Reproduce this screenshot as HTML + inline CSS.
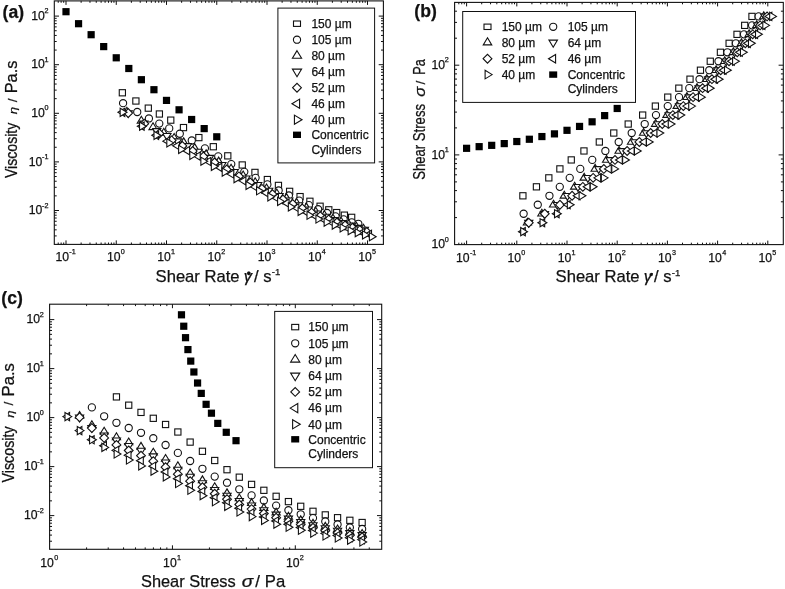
<!DOCTYPE html>
<html><head><meta charset="utf-8"><title>Figure</title>
<style>
html,body{margin:0;padding:0;background:#fff;}
svg{display:block;}
svg text{font-family:"Liberation Sans", sans-serif;fill:#111;stroke:#111;stroke-width:0.25px;}
</style></head><body>
<svg width="785" height="589" viewBox="0 0 785 589">
<rect width="785" height="589" fill="#fff"/>
<rect x="54.3" y="0.9" width="329.10" height="243.50" fill="none" stroke="#111" stroke-width="1.1"/>
<path d="M58.22 244.4v-1.9M58.22 0.9v1.9M61.13 244.4v-1.9M61.13 0.9v1.9M63.70 244.4v-1.9M63.70 0.9v1.9M66.00 244.4v-4.0M66.00 0.9v4.0M81.13 244.4v-1.9M81.13 0.9v1.9M89.98 244.4v-1.9M89.98 0.9v1.9M96.25 244.4v-1.9M96.25 0.9v1.9M101.12 244.4v-1.9M101.12 0.9v1.9M105.10 244.4v-1.9M105.10 0.9v1.9M108.47 244.4v-1.9M108.47 0.9v1.9M111.38 244.4v-1.9M111.38 0.9v1.9M113.95 244.4v-1.9M113.95 0.9v1.9M116.25 244.4v-4.0M116.25 0.9v4.0M131.38 244.4v-1.9M131.38 0.9v1.9M140.23 244.4v-1.9M140.23 0.9v1.9M146.50 244.4v-1.9M146.50 0.9v1.9M151.37 244.4v-1.9M151.37 0.9v1.9M155.35 244.4v-1.9M155.35 0.9v1.9M158.72 244.4v-1.9M158.72 0.9v1.9M161.63 244.4v-1.9M161.63 0.9v1.9M164.20 244.4v-1.9M164.20 0.9v1.9M166.50 244.4v-4.0M166.50 0.9v4.0M181.63 244.4v-1.9M181.63 0.9v1.9M190.48 244.4v-1.9M190.48 0.9v1.9M196.75 244.4v-1.9M196.75 0.9v1.9M201.62 244.4v-1.9M201.62 0.9v1.9M205.60 244.4v-1.9M205.60 0.9v1.9M208.97 244.4v-1.9M208.97 0.9v1.9M211.88 244.4v-1.9M211.88 0.9v1.9M214.45 244.4v-1.9M214.45 0.9v1.9M216.75 244.4v-4.0M216.75 0.9v4.0M231.88 244.4v-1.9M231.88 0.9v1.9M240.73 244.4v-1.9M240.73 0.9v1.9M247.00 244.4v-1.9M247.00 0.9v1.9M251.87 244.4v-1.9M251.87 0.9v1.9M255.85 244.4v-1.9M255.85 0.9v1.9M259.22 244.4v-1.9M259.22 0.9v1.9M262.13 244.4v-1.9M262.13 0.9v1.9M264.70 244.4v-1.9M264.70 0.9v1.9M267.00 244.4v-4.0M267.00 0.9v4.0M282.13 244.4v-1.9M282.13 0.9v1.9M290.98 244.4v-1.9M290.98 0.9v1.9M297.25 244.4v-1.9M297.25 0.9v1.9M302.12 244.4v-1.9M302.12 0.9v1.9M306.10 244.4v-1.9M306.10 0.9v1.9M309.47 244.4v-1.9M309.47 0.9v1.9M312.38 244.4v-1.9M312.38 0.9v1.9M314.95 244.4v-1.9M314.95 0.9v1.9M317.25 244.4v-4.0M317.25 0.9v4.0M332.38 244.4v-1.9M332.38 0.9v1.9M341.23 244.4v-1.9M341.23 0.9v1.9M347.50 244.4v-1.9M347.50 0.9v1.9M352.37 244.4v-1.9M352.37 0.9v1.9M356.35 244.4v-1.9M356.35 0.9v1.9M359.72 244.4v-1.9M359.72 0.9v1.9M362.63 244.4v-1.9M362.63 0.9v1.9M365.20 244.4v-1.9M365.20 0.9v1.9M367.50 244.4v-4.0M367.50 0.9v4.0M54.3 235.91h2.4M383.4 235.91h-2.4M54.3 229.84h2.4M383.4 229.84h-2.4M54.3 225.13h2.4M383.4 225.13h-2.4M54.3 221.28h2.4M383.4 221.28h-2.4M54.3 218.03h2.4M383.4 218.03h-2.4M54.3 215.21h2.4M383.4 215.21h-2.4M54.3 212.72h2.4M383.4 212.72h-2.4M54.3 210.50h4.7M383.4 210.50h-4.7M54.3 195.87h2.4M383.4 195.87h-2.4M54.3 187.31h2.4M383.4 187.31h-2.4M54.3 181.24h2.4M383.4 181.24h-2.4M54.3 176.53h2.4M383.4 176.53h-2.4M54.3 172.68h2.4M383.4 172.68h-2.4M54.3 169.43h2.4M383.4 169.43h-2.4M54.3 166.61h2.4M383.4 166.61h-2.4M54.3 164.12h2.4M383.4 164.12h-2.4M54.3 161.90h4.7M383.4 161.90h-4.7M54.3 147.27h2.4M383.4 147.27h-2.4M54.3 138.71h2.4M383.4 138.71h-2.4M54.3 132.64h2.4M383.4 132.64h-2.4M54.3 127.93h2.4M383.4 127.93h-2.4M54.3 124.08h2.4M383.4 124.08h-2.4M54.3 120.83h2.4M383.4 120.83h-2.4M54.3 118.01h2.4M383.4 118.01h-2.4M54.3 115.52h2.4M383.4 115.52h-2.4M54.3 113.30h4.7M383.4 113.30h-4.7M54.3 98.67h2.4M383.4 98.67h-2.4M54.3 90.11h2.4M383.4 90.11h-2.4M54.3 84.04h2.4M383.4 84.04h-2.4M54.3 79.33h2.4M383.4 79.33h-2.4M54.3 75.48h2.4M383.4 75.48h-2.4M54.3 72.23h2.4M383.4 72.23h-2.4M54.3 69.41h2.4M383.4 69.41h-2.4M54.3 66.92h2.4M383.4 66.92h-2.4M54.3 64.70h4.7M383.4 64.70h-4.7M54.3 50.07h2.4M383.4 50.07h-2.4M54.3 41.51h2.4M383.4 41.51h-2.4M54.3 35.44h2.4M383.4 35.44h-2.4M54.3 30.73h2.4M383.4 30.73h-2.4M54.3 26.88h2.4M383.4 26.88h-2.4M54.3 23.63h2.4M383.4 23.63h-2.4M54.3 20.81h2.4M383.4 20.81h-2.4M54.3 18.32h2.4M383.4 18.32h-2.4M54.3 16.10h4.7M383.4 16.10h-4.7" stroke="#111" stroke-width="1" fill="none"/>
<text x="55.47" y="261.20" font-size="13" textLength="13.6" lengthAdjust="spacingAndGlyphs">10</text><text x="69.37" y="254.30" font-size="7.2">-1</text>
<text x="106.92" y="261.20" font-size="13" textLength="13.6" lengthAdjust="spacingAndGlyphs">10</text><text x="120.82" y="254.30" font-size="7.2">0</text>
<text x="157.17" y="261.20" font-size="13" textLength="13.6" lengthAdjust="spacingAndGlyphs">10</text><text x="171.07" y="254.30" font-size="7.2">1</text>
<text x="207.42" y="261.20" font-size="13" textLength="13.6" lengthAdjust="spacingAndGlyphs">10</text><text x="221.32" y="254.30" font-size="7.2">2</text>
<text x="257.67" y="261.20" font-size="13" textLength="13.6" lengthAdjust="spacingAndGlyphs">10</text><text x="271.57" y="254.30" font-size="7.2">3</text>
<text x="307.92" y="261.20" font-size="13" textLength="13.6" lengthAdjust="spacingAndGlyphs">10</text><text x="321.82" y="254.30" font-size="7.2">4</text>
<text x="358.17" y="261.20" font-size="13" textLength="13.6" lengthAdjust="spacingAndGlyphs">10</text><text x="372.07" y="254.30" font-size="7.2">5</text>
<text x="28.74" y="214.10" font-size="13" textLength="13.6" lengthAdjust="spacingAndGlyphs">10</text><text x="42.04" y="207.60" font-size="7.2">-2</text>
<text x="28.74" y="165.50" font-size="13" textLength="13.6" lengthAdjust="spacingAndGlyphs">10</text><text x="42.04" y="159.00" font-size="7.2">-1</text>
<text x="31.14" y="116.90" font-size="13" textLength="13.6" lengthAdjust="spacingAndGlyphs">10</text><text x="44.44" y="110.40" font-size="7.2">0</text>
<text x="31.14" y="68.30" font-size="13" textLength="13.6" lengthAdjust="spacingAndGlyphs">10</text><text x="44.44" y="61.80" font-size="7.2">1</text>
<text x="31.14" y="19.70" font-size="13" textLength="13.6" lengthAdjust="spacingAndGlyphs">10</text><text x="44.44" y="13.20" font-size="7.2">2</text>
<rect x="119.26" y="89.67" width="6.2" height="6.2" fill="#fff" stroke="#111" stroke-width="1.1" stroke-linejoin="miter"/>
<rect x="132.79" y="97.90" width="6.2" height="6.2" fill="#fff" stroke="#111" stroke-width="1.1" stroke-linejoin="miter"/>
<rect x="145.20" y="105.04" width="6.2" height="6.2" fill="#fff" stroke="#111" stroke-width="1.1" stroke-linejoin="miter"/>
<rect x="156.28" y="110.89" width="6.2" height="6.2" fill="#fff" stroke="#111" stroke-width="1.1" stroke-linejoin="miter"/>
<rect x="167.66" y="117.04" width="6.2" height="6.2" fill="#fff" stroke="#111" stroke-width="1.1" stroke-linejoin="miter"/>
<rect x="180.38" y="124.48" width="6.2" height="6.2" fill="#fff" stroke="#111" stroke-width="1.1" stroke-linejoin="miter"/>
<rect x="195.76" y="134.50" width="6.2" height="6.2" fill="#fff" stroke="#111" stroke-width="1.1" stroke-linejoin="miter"/>
<rect x="210.22" y="143.62" width="6.2" height="6.2" fill="#fff" stroke="#111" stroke-width="1.1" stroke-linejoin="miter"/>
<rect x="224.68" y="152.75" width="6.2" height="6.2" fill="#fff" stroke="#111" stroke-width="1.1" stroke-linejoin="miter"/>
<rect x="239.14" y="161.87" width="6.2" height="6.2" fill="#fff" stroke="#111" stroke-width="1.1" stroke-linejoin="miter"/>
<rect x="251.86" y="169.31" width="6.2" height="6.2" fill="#fff" stroke="#111" stroke-width="1.1" stroke-linejoin="miter"/>
<rect x="264.27" y="176.45" width="6.2" height="6.2" fill="#fff" stroke="#111" stroke-width="1.1" stroke-linejoin="miter"/>
<rect x="275.34" y="182.31" width="6.2" height="6.2" fill="#fff" stroke="#111" stroke-width="1.1" stroke-linejoin="miter"/>
<rect x="286.52" y="188.26" width="6.2" height="6.2" fill="#fff" stroke="#111" stroke-width="1.1" stroke-linejoin="miter"/>
<rect x="296.98" y="193.51" width="6.2" height="6.2" fill="#fff" stroke="#111" stroke-width="1.1" stroke-linejoin="miter"/>
<rect x="306.82" y="198.18" width="6.2" height="6.2" fill="#fff" stroke="#111" stroke-width="1.1" stroke-linejoin="miter"/>
<rect x="316.98" y="203.14" width="6.2" height="6.2" fill="#fff" stroke="#111" stroke-width="1.1" stroke-linejoin="miter"/>
<rect x="325.69" y="206.71" width="6.2" height="6.2" fill="#fff" stroke="#111" stroke-width="1.1" stroke-linejoin="miter"/>
<rect x="333.59" y="209.48" width="6.2" height="6.2" fill="#fff" stroke="#111" stroke-width="1.1" stroke-linejoin="miter"/>
<rect x="341.28" y="212.06" width="6.2" height="6.2" fill="#fff" stroke="#111" stroke-width="1.1" stroke-linejoin="miter"/>
<rect x="348.56" y="214.24" width="6.2" height="6.2" fill="#fff" stroke="#111" stroke-width="1.1" stroke-linejoin="miter"/>
<circle cx="123.08" cy="103.18" r="3.6" fill="#fff" stroke="#111" stroke-width="1.1" stroke-linejoin="miter"/>
<circle cx="137.23" cy="112.01" r="3.6" fill="#fff" stroke="#111" stroke-width="1.1" stroke-linejoin="miter"/>
<circle cx="148.92" cy="118.46" r="3.6" fill="#fff" stroke="#111" stroke-width="1.1" stroke-linejoin="miter"/>
<circle cx="159.28" cy="123.62" r="3.6" fill="#fff" stroke="#111" stroke-width="1.1" stroke-linejoin="miter"/>
<circle cx="169.22" cy="128.38" r="3.6" fill="#fff" stroke="#111" stroke-width="1.1" stroke-linejoin="miter"/>
<circle cx="179.79" cy="133.73" r="3.6" fill="#fff" stroke="#111" stroke-width="1.1" stroke-linejoin="miter"/>
<circle cx="191.78" cy="140.48" r="3.6" fill="#fff" stroke="#111" stroke-width="1.1" stroke-linejoin="miter"/>
<circle cx="204.91" cy="148.31" r="3.6" fill="#fff" stroke="#111" stroke-width="1.1" stroke-linejoin="miter"/>
<circle cx="218.24" cy="156.35" r="3.6" fill="#fff" stroke="#111" stroke-width="1.1" stroke-linejoin="miter"/>
<circle cx="231.27" cy="164.08" r="3.6" fill="#fff" stroke="#111" stroke-width="1.1" stroke-linejoin="miter"/>
<circle cx="244.29" cy="171.82" r="3.6" fill="#fff" stroke="#111" stroke-width="1.1" stroke-linejoin="miter"/>
<circle cx="255.57" cy="177.87" r="3.6" fill="#fff" stroke="#111" stroke-width="1.1" stroke-linejoin="miter"/>
<circle cx="267.37" cy="184.41" r="3.6" fill="#fff" stroke="#111" stroke-width="1.1" stroke-linejoin="miter"/>
<circle cx="278.65" cy="190.46" r="3.6" fill="#fff" stroke="#111" stroke-width="1.1" stroke-linejoin="miter"/>
<circle cx="288.90" cy="195.52" r="3.6" fill="#fff" stroke="#111" stroke-width="1.1" stroke-linejoin="miter"/>
<circle cx="299.16" cy="200.58" r="3.6" fill="#fff" stroke="#111" stroke-width="1.1" stroke-linejoin="miter"/>
<circle cx="308.90" cy="205.14" r="3.6" fill="#fff" stroke="#111" stroke-width="1.1" stroke-linejoin="miter"/>
<circle cx="318.13" cy="209.21" r="3.6" fill="#fff" stroke="#111" stroke-width="1.1" stroke-linejoin="miter"/>
<circle cx="327.05" cy="212.98" r="3.6" fill="#fff" stroke="#111" stroke-width="1.1" stroke-linejoin="miter"/>
<circle cx="335.56" cy="216.35" r="3.6" fill="#fff" stroke="#111" stroke-width="1.1" stroke-linejoin="miter"/>
<circle cx="343.66" cy="219.33" r="3.6" fill="#fff" stroke="#111" stroke-width="1.1" stroke-linejoin="miter"/>
<circle cx="351.76" cy="222.30" r="3.6" fill="#fff" stroke="#111" stroke-width="1.1" stroke-linejoin="miter"/>
<circle cx="358.33" cy="223.79" r="3.6" fill="#fff" stroke="#111" stroke-width="1.1" stroke-linejoin="miter"/>
<path d="M126.87 107.21L130.97 114.01L122.77 114.01Z" fill="#fff" stroke="#111" stroke-width="1.1" stroke-linejoin="miter"/>
<path d="M141.33 116.34L145.43 123.14L137.23 123.14Z" fill="#fff" stroke="#111" stroke-width="1.1" stroke-linejoin="miter"/>
<path d="M153.02 122.78L157.12 129.58L148.92 129.58Z" fill="#fff" stroke="#111" stroke-width="1.1" stroke-linejoin="miter"/>
<path d="M163.79 128.34L167.89 135.14L159.69 135.14Z" fill="#fff" stroke="#111" stroke-width="1.1" stroke-linejoin="miter"/>
<path d="M174.15 133.50L178.25 140.30L170.05 140.30Z" fill="#fff" stroke="#111" stroke-width="1.1" stroke-linejoin="miter"/>
<path d="M183.68 137.86L187.78 144.66L179.58 144.66Z" fill="#fff" stroke="#111" stroke-width="1.1" stroke-linejoin="miter"/>
<path d="M194.66 143.61L198.76 150.41L190.56 150.41Z" fill="#fff" stroke="#111" stroke-width="1.1" stroke-linejoin="miter"/>
<path d="M206.14 149.86L210.24 156.66L202.04 156.66Z" fill="#fff" stroke="#111" stroke-width="1.1" stroke-linejoin="miter"/>
<path d="M218.65 157.10L222.75 163.90L214.55 163.90Z" fill="#fff" stroke="#111" stroke-width="1.1" stroke-linejoin="miter"/>
<path d="M231.06 164.24L235.16 171.04L226.96 171.04Z" fill="#fff" stroke="#111" stroke-width="1.1" stroke-linejoin="miter"/>
<path d="M243.16 171.09L247.26 177.89L239.06 177.89Z" fill="#fff" stroke="#111" stroke-width="1.1" stroke-linejoin="miter"/>
<path d="M255.16 177.83L259.26 184.63L251.06 184.63Z" fill="#fff" stroke="#111" stroke-width="1.1" stroke-linejoin="miter"/>
<path d="M266.54 183.98L270.64 190.78L262.44 190.78Z" fill="#fff" stroke="#111" stroke-width="1.1" stroke-linejoin="miter"/>
<path d="M276.80 189.04L280.90 195.84L272.70 195.84Z" fill="#fff" stroke="#111" stroke-width="1.1" stroke-linejoin="miter"/>
<path d="M286.54 193.60L290.64 200.40L282.44 200.40Z" fill="#fff" stroke="#111" stroke-width="1.1" stroke-linejoin="miter"/>
<path d="M296.69 198.56L300.79 205.36L292.59 205.36Z" fill="#fff" stroke="#111" stroke-width="1.1" stroke-linejoin="miter"/>
<path d="M306.44 203.12L310.54 209.92L302.34 209.92Z" fill="#fff" stroke="#111" stroke-width="1.1" stroke-linejoin="miter"/>
<path d="M315.77 207.29L319.87 214.09L311.67 214.09Z" fill="#fff" stroke="#111" stroke-width="1.1" stroke-linejoin="miter"/>
<path d="M324.38 210.76L328.48 217.56L320.28 217.56Z" fill="#fff" stroke="#111" stroke-width="1.1" stroke-linejoin="miter"/>
<path d="M333.00 214.23L337.10 221.03L328.90 221.03Z" fill="#fff" stroke="#111" stroke-width="1.1" stroke-linejoin="miter"/>
<path d="M341.10 217.21L345.20 224.01L337.00 224.01Z" fill="#fff" stroke="#111" stroke-width="1.1" stroke-linejoin="miter"/>
<path d="M348.79 219.79L352.89 226.59L344.69 226.59Z" fill="#fff" stroke="#111" stroke-width="1.1" stroke-linejoin="miter"/>
<path d="M356.38 222.27L360.48 229.07L352.28 229.07Z" fill="#fff" stroke="#111" stroke-width="1.1" stroke-linejoin="miter"/>
<path d="M363.46 224.25L367.56 231.05L359.36 231.05Z" fill="#fff" stroke="#111" stroke-width="1.1" stroke-linejoin="miter"/>
<path d="M128.22 117.52L132.32 110.72L124.12 110.72Z" fill="#fff" stroke="#111" stroke-width="1.1" stroke-linejoin="miter"/>
<path d="M143.92 127.84L148.02 121.04L139.82 121.04Z" fill="#fff" stroke="#111" stroke-width="1.1" stroke-linejoin="miter"/>
<path d="M156.77 135.42L160.87 128.62L152.67 128.62Z" fill="#fff" stroke="#111" stroke-width="1.1" stroke-linejoin="miter"/>
<path d="M166.92 140.36L171.02 133.56L162.82 133.56Z" fill="#fff" stroke="#111" stroke-width="1.1" stroke-linejoin="miter"/>
<path d="M177.48 145.72L181.58 138.92L173.38 138.92Z" fill="#fff" stroke="#111" stroke-width="1.1" stroke-linejoin="miter"/>
<path d="M187.40 150.46L191.50 143.66L183.30 143.66Z" fill="#fff" stroke="#111" stroke-width="1.1" stroke-linejoin="miter"/>
<path d="M198.25 156.08L202.35 149.28L194.15 149.28Z" fill="#fff" stroke="#111" stroke-width="1.1" stroke-linejoin="miter"/>
<path d="M209.58 162.18L213.68 155.38L205.48 155.38Z" fill="#fff" stroke="#111" stroke-width="1.1" stroke-linejoin="miter"/>
<path d="M221.91 169.25L226.01 162.45L217.81 162.45Z" fill="#fff" stroke="#111" stroke-width="1.1" stroke-linejoin="miter"/>
<path d="M234.22 176.29L238.32 169.49L230.12 169.49Z" fill="#fff" stroke="#111" stroke-width="1.1" stroke-linejoin="miter"/>
<path d="M245.93 182.77L250.03 175.97L241.83 175.97Z" fill="#fff" stroke="#111" stroke-width="1.1" stroke-linejoin="miter"/>
<path d="M257.75 189.34L261.85 182.54L253.65 182.54Z" fill="#fff" stroke="#111" stroke-width="1.1" stroke-linejoin="miter"/>
<path d="M268.72 195.09L272.82 188.29L264.62 188.29Z" fill="#fff" stroke="#111" stroke-width="1.1" stroke-linejoin="miter"/>
<path d="M279.11 200.27L283.21 193.47L275.01 193.47Z" fill="#fff" stroke="#111" stroke-width="1.1" stroke-linejoin="miter"/>
<path d="M288.85 204.83L292.95 198.03L284.75 198.03Z" fill="#fff" stroke="#111" stroke-width="1.1" stroke-linejoin="miter"/>
<path d="M298.69 209.50L302.79 202.70L294.59 202.70Z" fill="#fff" stroke="#111" stroke-width="1.1" stroke-linejoin="miter"/>
<path d="M308.23 213.86L312.33 207.06L304.13 207.06Z" fill="#fff" stroke="#111" stroke-width="1.1" stroke-linejoin="miter"/>
<path d="M317.28 217.75L321.38 210.95L313.18 210.95Z" fill="#fff" stroke="#111" stroke-width="1.1" stroke-linejoin="miter"/>
<path d="M325.77 221.10L329.87 214.30L321.67 214.30Z" fill="#fff" stroke="#111" stroke-width="1.1" stroke-linejoin="miter"/>
<path d="M334.20 224.40L338.30 217.60L330.10 217.60Z" fill="#fff" stroke="#111" stroke-width="1.1" stroke-linejoin="miter"/>
<path d="M342.28 227.35L346.38 220.55L338.18 220.55Z" fill="#fff" stroke="#111" stroke-width="1.1" stroke-linejoin="miter"/>
<path d="M349.82 229.78L353.92 222.98L345.72 222.98Z" fill="#fff" stroke="#111" stroke-width="1.1" stroke-linejoin="miter"/>
<path d="M357.33 232.18L361.43 225.38L353.23 225.38Z" fill="#fff" stroke="#111" stroke-width="1.1" stroke-linejoin="miter"/>
<path d="M364.35 234.12L368.45 227.32L360.25 227.32Z" fill="#fff" stroke="#111" stroke-width="1.1" stroke-linejoin="miter"/>
<path d="M123.82 113.02L128.22 108.62L132.62 113.02L128.22 117.42Z" fill="#fff" stroke="#111" stroke-width="1.1" stroke-linejoin="miter"/>
<path d="M139.85 123.66L144.25 119.26L148.65 123.66L144.25 128.06Z" fill="#fff" stroke="#111" stroke-width="1.1" stroke-linejoin="miter"/>
<path d="M155.02 133.47L159.42 129.07L163.82 133.47L159.42 137.87Z" fill="#fff" stroke="#111" stroke-width="1.1" stroke-linejoin="miter"/>
<path d="M167.18 140.38L171.58 135.98L175.98 140.38L171.58 144.78Z" fill="#fff" stroke="#111" stroke-width="1.1" stroke-linejoin="miter"/>
<path d="M177.95 145.93L182.35 141.53L186.75 145.93L182.35 150.33Z" fill="#fff" stroke="#111" stroke-width="1.1" stroke-linejoin="miter"/>
<path d="M188.26 151.04L192.66 146.64L197.06 151.04L192.66 155.44Z" fill="#fff" stroke="#111" stroke-width="1.1" stroke-linejoin="miter"/>
<path d="M198.97 156.54L203.37 152.14L207.77 156.54L203.37 160.94Z" fill="#fff" stroke="#111" stroke-width="1.1" stroke-linejoin="miter"/>
<path d="M210.15 162.50L214.55 158.10L218.95 162.50L214.55 166.90Z" fill="#fff" stroke="#111" stroke-width="1.1" stroke-linejoin="miter"/>
<path d="M222.30 169.39L226.70 164.99L231.10 169.39L226.70 173.79Z" fill="#fff" stroke="#111" stroke-width="1.1" stroke-linejoin="miter"/>
<path d="M234.51 176.33L238.91 171.93L243.31 176.33L238.91 180.73Z" fill="#fff" stroke="#111" stroke-width="1.1" stroke-linejoin="miter"/>
<path d="M245.84 182.43L250.24 178.03L254.64 182.43L250.24 186.83Z" fill="#fff" stroke="#111" stroke-width="1.1" stroke-linejoin="miter"/>
<path d="M257.48 188.83L261.88 184.43L266.28 188.83L261.88 193.23Z" fill="#fff" stroke="#111" stroke-width="1.1" stroke-linejoin="miter"/>
<path d="M268.04 194.18L272.44 189.78L276.84 194.18L272.44 198.58Z" fill="#fff" stroke="#111" stroke-width="1.1" stroke-linejoin="miter"/>
<path d="M278.55 199.49L282.95 195.09L287.35 199.49L282.95 203.89Z" fill="#fff" stroke="#111" stroke-width="1.1" stroke-linejoin="miter"/>
<path d="M288.30 204.05L292.70 199.65L297.10 204.05L292.70 208.45Z" fill="#fff" stroke="#111" stroke-width="1.1" stroke-linejoin="miter"/>
<path d="M297.83 208.42L302.23 204.02L306.63 208.42L302.23 212.82Z" fill="#fff" stroke="#111" stroke-width="1.1" stroke-linejoin="miter"/>
<path d="M307.16 212.58L311.56 208.18L315.96 212.58L311.56 216.98Z" fill="#fff" stroke="#111" stroke-width="1.1" stroke-linejoin="miter"/>
<path d="M315.93 216.20L320.33 211.80L324.73 216.20L320.33 220.60Z" fill="#fff" stroke="#111" stroke-width="1.1" stroke-linejoin="miter"/>
<path d="M324.29 219.43L328.69 215.03L333.09 219.43L328.69 223.83Z" fill="#fff" stroke="#111" stroke-width="1.1" stroke-linejoin="miter"/>
<path d="M332.55 222.55L336.95 218.15L341.35 222.55L336.95 226.95Z" fill="#fff" stroke="#111" stroke-width="1.1" stroke-linejoin="miter"/>
<path d="M340.60 225.48L345.00 221.08L349.40 225.48L345.00 229.88Z" fill="#fff" stroke="#111" stroke-width="1.1" stroke-linejoin="miter"/>
<path d="M347.98 227.76L352.38 223.36L356.78 227.76L352.38 232.16Z" fill="#fff" stroke="#111" stroke-width="1.1" stroke-linejoin="miter"/>
<path d="M355.41 230.09L359.81 225.69L364.21 230.09L359.81 234.49Z" fill="#fff" stroke="#111" stroke-width="1.1" stroke-linejoin="miter"/>
<path d="M362.39 231.97L366.79 227.57L371.19 231.97L366.79 236.37Z" fill="#fff" stroke="#111" stroke-width="1.1" stroke-linejoin="miter"/>
<path d="M117.96 112.31L124.76 108.21L124.76 116.41Z" fill="#fff" stroke="#111" stroke-width="1.1" stroke-linejoin="miter"/>
<path d="M137.34 126.19L144.14 122.09L144.14 130.29Z" fill="#fff" stroke="#111" stroke-width="1.1" stroke-linejoin="miter"/>
<path d="M151.80 135.32L158.60 131.22L158.60 139.42Z" fill="#fff" stroke="#111" stroke-width="1.1" stroke-linejoin="miter"/>
<path d="M162.86 141.15L169.66 137.05L169.66 145.25Z" fill="#fff" stroke="#111" stroke-width="1.1" stroke-linejoin="miter"/>
<path d="M172.68 145.79L179.48 141.69L179.48 149.89Z" fill="#fff" stroke="#111" stroke-width="1.1" stroke-linejoin="miter"/>
<path d="M182.72 150.64L189.52 146.54L189.52 154.74Z" fill="#fff" stroke="#111" stroke-width="1.1" stroke-linejoin="miter"/>
<path d="M193.41 156.12L200.21 152.02L200.21 160.22Z" fill="#fff" stroke="#111" stroke-width="1.1" stroke-linejoin="miter"/>
<path d="M204.00 161.50L210.80 157.40L210.80 165.60Z" fill="#fff" stroke="#111" stroke-width="1.1" stroke-linejoin="miter"/>
<path d="M215.03 167.31L221.83 163.21L221.83 171.41Z" fill="#fff" stroke="#111" stroke-width="1.1" stroke-linejoin="miter"/>
<path d="M227.00 174.03L233.80 169.93L233.80 178.13Z" fill="#fff" stroke="#111" stroke-width="1.1" stroke-linejoin="miter"/>
<path d="M239.10 180.87L245.90 176.77L245.90 184.97Z" fill="#fff" stroke="#111" stroke-width="1.1" stroke-linejoin="miter"/>
<path d="M250.05 186.60L256.85 182.50L256.85 190.70Z" fill="#fff" stroke="#111" stroke-width="1.1" stroke-linejoin="miter"/>
<path d="M261.51 192.82L268.31 188.72L268.31 196.92Z" fill="#fff" stroke="#111" stroke-width="1.1" stroke-linejoin="miter"/>
<path d="M271.66 197.78L278.46 193.68L278.46 201.88Z" fill="#fff" stroke="#111" stroke-width="1.1" stroke-linejoin="miter"/>
<path d="M282.30 203.21L289.10 199.11L289.10 207.31Z" fill="#fff" stroke="#111" stroke-width="1.1" stroke-linejoin="miter"/>
<path d="M292.04 207.77L298.84 203.67L298.84 211.87Z" fill="#fff" stroke="#111" stroke-width="1.1" stroke-linejoin="miter"/>
<path d="M301.27 211.84L308.07 207.74L308.07 215.94Z" fill="#fff" stroke="#111" stroke-width="1.1" stroke-linejoin="miter"/>
<path d="M310.40 215.81L317.20 211.71L317.20 219.91Z" fill="#fff" stroke="#111" stroke-width="1.1" stroke-linejoin="miter"/>
<path d="M318.88 219.15L325.68 215.05L325.68 223.25Z" fill="#fff" stroke="#111" stroke-width="1.1" stroke-linejoin="miter"/>
<path d="M327.11 222.25L333.91 218.15L333.91 226.35Z" fill="#fff" stroke="#111" stroke-width="1.1" stroke-linejoin="miter"/>
<path d="M335.19 225.20L341.99 221.10L341.99 229.30Z" fill="#fff" stroke="#111" stroke-width="1.1" stroke-linejoin="miter"/>
<path d="M343.21 228.11L350.01 224.01L350.01 232.21Z" fill="#fff" stroke="#111" stroke-width="1.1" stroke-linejoin="miter"/>
<path d="M350.44 230.24L357.24 226.14L357.24 234.34Z" fill="#fff" stroke="#111" stroke-width="1.1" stroke-linejoin="miter"/>
<path d="M357.80 232.49L364.60 228.39L364.60 236.59Z" fill="#fff" stroke="#111" stroke-width="1.1" stroke-linejoin="miter"/>
<path d="M364.72 234.33L371.52 230.23L371.52 238.43Z" fill="#fff" stroke="#111" stroke-width="1.1" stroke-linejoin="miter"/>
<path d="M126.96 112.31L120.16 108.21L120.16 116.41Z" fill="#fff" stroke="#111" stroke-width="1.1" stroke-linejoin="miter"/>
<path d="M146.34 126.19L139.54 122.09L139.54 130.29Z" fill="#fff" stroke="#111" stroke-width="1.1" stroke-linejoin="miter"/>
<path d="M160.80 135.32L154.00 131.22L154.00 139.42Z" fill="#fff" stroke="#111" stroke-width="1.1" stroke-linejoin="miter"/>
<path d="M173.62 142.86L166.82 138.76L166.82 146.96Z" fill="#fff" stroke="#111" stroke-width="1.1" stroke-linejoin="miter"/>
<path d="M185.41 149.40L178.61 145.30L178.61 153.50Z" fill="#fff" stroke="#111" stroke-width="1.1" stroke-linejoin="miter"/>
<path d="M196.59 155.35L189.79 151.25L189.79 159.45Z" fill="#fff" stroke="#111" stroke-width="1.1" stroke-linejoin="miter"/>
<path d="M207.67 161.21L200.87 157.11L200.87 165.31Z" fill="#fff" stroke="#111" stroke-width="1.1" stroke-linejoin="miter"/>
<path d="M218.13 166.46L211.33 162.36L211.33 170.56Z" fill="#fff" stroke="#111" stroke-width="1.1" stroke-linejoin="miter"/>
<path d="M229.00 172.12L222.20 168.02L222.20 176.22Z" fill="#fff" stroke="#111" stroke-width="1.1" stroke-linejoin="miter"/>
<path d="M240.79 178.66L233.99 174.56L233.99 182.76Z" fill="#fff" stroke="#111" stroke-width="1.1" stroke-linejoin="miter"/>
<path d="M252.79 185.41L245.99 181.31L245.99 189.51Z" fill="#fff" stroke="#111" stroke-width="1.1" stroke-linejoin="miter"/>
<path d="M263.35 190.76L256.55 186.66L256.55 194.86Z" fill="#fff" stroke="#111" stroke-width="1.1" stroke-linejoin="miter"/>
<path d="M274.63 196.81L267.83 192.71L267.83 200.91Z" fill="#fff" stroke="#111" stroke-width="1.1" stroke-linejoin="miter"/>
<path d="M284.38 201.38L277.58 197.28L277.58 205.48Z" fill="#fff" stroke="#111" stroke-width="1.1" stroke-linejoin="miter"/>
<path d="M295.14 206.93L288.34 202.83L288.34 211.03Z" fill="#fff" stroke="#111" stroke-width="1.1" stroke-linejoin="miter"/>
<path d="M304.89 211.49L298.09 207.39L298.09 215.59Z" fill="#fff" stroke="#111" stroke-width="1.1" stroke-linejoin="miter"/>
<path d="M313.81 215.26L307.01 211.16L307.01 219.36Z" fill="#fff" stroke="#111" stroke-width="1.1" stroke-linejoin="miter"/>
<path d="M322.73 219.03L315.93 214.93L315.93 223.13Z" fill="#fff" stroke="#111" stroke-width="1.1" stroke-linejoin="miter"/>
<path d="M330.93 222.10L324.13 218.00L324.13 226.20Z" fill="#fff" stroke="#111" stroke-width="1.1" stroke-linejoin="miter"/>
<path d="M339.04 225.08L332.24 220.98L332.24 229.18Z" fill="#fff" stroke="#111" stroke-width="1.1" stroke-linejoin="miter"/>
<path d="M346.93 227.86L340.13 223.76L340.13 231.96Z" fill="#fff" stroke="#111" stroke-width="1.1" stroke-linejoin="miter"/>
<path d="M354.93 230.73L348.13 226.63L348.13 234.83Z" fill="#fff" stroke="#111" stroke-width="1.1" stroke-linejoin="miter"/>
<path d="M362.01 232.72L355.21 228.62L355.21 236.82Z" fill="#fff" stroke="#111" stroke-width="1.1" stroke-linejoin="miter"/>
<path d="M369.29 234.90L362.49 230.80L362.49 239.00Z" fill="#fff" stroke="#111" stroke-width="1.1" stroke-linejoin="miter"/>
<path d="M376.16 236.68L369.36 232.58L369.36 240.78Z" fill="#fff" stroke="#111" stroke-width="1.1" stroke-linejoin="miter"/>
<rect x="62.40" y="8.10" width="7.2" height="7.2" fill="#000"/>
<rect x="74.96" y="20.10" width="7.2" height="7.2" fill="#000"/>
<rect x="87.53" y="31.10" width="7.2" height="7.2" fill="#000"/>
<rect x="100.09" y="43.00" width="7.2" height="7.2" fill="#000"/>
<rect x="112.65" y="54.20" width="7.2" height="7.2" fill="#000"/>
<rect x="125.21" y="64.90" width="7.2" height="7.2" fill="#000"/>
<rect x="137.78" y="76.10" width="7.2" height="7.2" fill="#000"/>
<rect x="150.34" y="86.10" width="7.2" height="7.2" fill="#000"/>
<rect x="162.90" y="96.80" width="7.2" height="7.2" fill="#000"/>
<rect x="175.46" y="106.20" width="7.2" height="7.2" fill="#000"/>
<rect x="188.03" y="115.90" width="7.2" height="7.2" fill="#000"/>
<rect x="200.59" y="125.00" width="7.2" height="7.2" fill="#000"/>
<rect x="213.15" y="133.20" width="7.2" height="7.2" fill="#000"/>
<rect x="454.6" y="2.4" width="328.70" height="242.20" fill="none" stroke="#111" stroke-width="1.1"/>
<path d="M458.82 244.6v-1.9M458.82 2.4v1.9M461.74 244.6v-1.9M461.74 2.4v1.9M464.30 244.6v-1.9M464.30 2.4v1.9M466.60 244.6v-4.0M466.60 2.4v4.0M481.71 244.6v-1.9M481.71 2.4v1.9M490.55 244.6v-1.9M490.55 2.4v1.9M496.82 244.6v-1.9M496.82 2.4v1.9M501.69 244.6v-1.9M501.69 2.4v1.9M505.66 244.6v-1.9M505.66 2.4v1.9M509.02 244.6v-1.9M509.02 2.4v1.9M511.94 244.6v-1.9M511.94 2.4v1.9M514.50 244.6v-1.9M514.50 2.4v1.9M516.80 244.6v-4.0M516.80 2.4v4.0M531.91 244.6v-1.9M531.91 2.4v1.9M540.75 244.6v-1.9M540.75 2.4v1.9M547.02 244.6v-1.9M547.02 2.4v1.9M551.89 244.6v-1.9M551.89 2.4v1.9M555.86 244.6v-1.9M555.86 2.4v1.9M559.22 244.6v-1.9M559.22 2.4v1.9M562.14 244.6v-1.9M562.14 2.4v1.9M564.70 244.6v-1.9M564.70 2.4v1.9M567.00 244.6v-4.0M567.00 2.4v4.0M582.11 244.6v-1.9M582.11 2.4v1.9M590.95 244.6v-1.9M590.95 2.4v1.9M597.22 244.6v-1.9M597.22 2.4v1.9M602.09 244.6v-1.9M602.09 2.4v1.9M606.06 244.6v-1.9M606.06 2.4v1.9M609.42 244.6v-1.9M609.42 2.4v1.9M612.34 244.6v-1.9M612.34 2.4v1.9M614.90 244.6v-1.9M614.90 2.4v1.9M617.20 244.6v-4.0M617.20 2.4v4.0M632.31 244.6v-1.9M632.31 2.4v1.9M641.15 244.6v-1.9M641.15 2.4v1.9M647.42 244.6v-1.9M647.42 2.4v1.9M652.29 244.6v-1.9M652.29 2.4v1.9M656.26 244.6v-1.9M656.26 2.4v1.9M659.62 244.6v-1.9M659.62 2.4v1.9M662.54 244.6v-1.9M662.54 2.4v1.9M665.10 244.6v-1.9M665.10 2.4v1.9M667.40 244.6v-4.0M667.40 2.4v4.0M682.51 244.6v-1.9M682.51 2.4v1.9M691.35 244.6v-1.9M691.35 2.4v1.9M697.62 244.6v-1.9M697.62 2.4v1.9M702.49 244.6v-1.9M702.49 2.4v1.9M706.46 244.6v-1.9M706.46 2.4v1.9M709.82 244.6v-1.9M709.82 2.4v1.9M712.74 244.6v-1.9M712.74 2.4v1.9M715.30 244.6v-1.9M715.30 2.4v1.9M717.60 244.6v-4.0M717.60 2.4v4.0M732.71 244.6v-1.9M732.71 2.4v1.9M741.55 244.6v-1.9M741.55 2.4v1.9M747.82 244.6v-1.9M747.82 2.4v1.9M752.69 244.6v-1.9M752.69 2.4v1.9M756.66 244.6v-1.9M756.66 2.4v1.9M760.02 244.6v-1.9M760.02 2.4v1.9M762.94 244.6v-1.9M762.94 2.4v1.9M765.50 244.6v-1.9M765.50 2.4v1.9M767.80 244.6v-4.0M767.80 2.4v4.0M454.6 217.60h2.4M783.3 217.60h-2.4M454.6 201.80h2.4M783.3 201.80h-2.4M454.6 190.60h2.4M783.3 190.60h-2.4M454.6 181.90h2.4M783.3 181.90h-2.4M454.6 174.80h2.4M783.3 174.80h-2.4M454.6 168.79h2.4M783.3 168.79h-2.4M454.6 163.59h2.4M783.3 163.59h-2.4M454.6 159.00h2.4M783.3 159.00h-2.4M454.6 154.90h4.7M783.3 154.90h-4.7M454.6 127.90h2.4M783.3 127.90h-2.4M454.6 112.10h2.4M783.3 112.10h-2.4M454.6 100.90h2.4M783.3 100.90h-2.4M454.6 92.20h2.4M783.3 92.20h-2.4M454.6 85.10h2.4M783.3 85.10h-2.4M454.6 79.09h2.4M783.3 79.09h-2.4M454.6 73.89h2.4M783.3 73.89h-2.4M454.6 69.30h2.4M783.3 69.30h-2.4M454.6 65.20h4.7M783.3 65.20h-4.7M454.6 38.20h2.4M783.3 38.20h-2.4M454.6 22.40h2.4M783.3 22.40h-2.4M454.6 11.20h2.4M783.3 11.20h-2.4" stroke="#111" stroke-width="1" fill="none"/>
<text x="456.07" y="261.80" font-size="13" textLength="13.6" lengthAdjust="spacingAndGlyphs">10</text><text x="469.97" y="254.90" font-size="7.2">-1</text>
<text x="507.47" y="261.80" font-size="13" textLength="13.6" lengthAdjust="spacingAndGlyphs">10</text><text x="521.37" y="254.90" font-size="7.2">0</text>
<text x="557.67" y="261.80" font-size="13" textLength="13.6" lengthAdjust="spacingAndGlyphs">10</text><text x="571.57" y="254.90" font-size="7.2">1</text>
<text x="607.87" y="261.80" font-size="13" textLength="13.6" lengthAdjust="spacingAndGlyphs">10</text><text x="621.77" y="254.90" font-size="7.2">2</text>
<text x="658.07" y="261.80" font-size="13" textLength="13.6" lengthAdjust="spacingAndGlyphs">10</text><text x="671.97" y="254.90" font-size="7.2">3</text>
<text x="708.27" y="261.80" font-size="13" textLength="13.6" lengthAdjust="spacingAndGlyphs">10</text><text x="722.17" y="254.90" font-size="7.2">4</text>
<text x="758.47" y="261.80" font-size="13" textLength="13.6" lengthAdjust="spacingAndGlyphs">10</text><text x="772.37" y="254.90" font-size="7.2">5</text>
<text x="431.44" y="248.20" font-size="13" textLength="13.6" lengthAdjust="spacingAndGlyphs">10</text><text x="444.74" y="241.70" font-size="7.2">0</text>
<text x="431.44" y="158.50" font-size="13" textLength="13.6" lengthAdjust="spacingAndGlyphs">10</text><text x="444.74" y="152.00" font-size="7.2">1</text>
<text x="431.44" y="68.80" font-size="13" textLength="13.6" lengthAdjust="spacingAndGlyphs">10</text><text x="444.74" y="62.30" font-size="7.2">2</text>
<rect x="519.80" y="192.70" width="6.2" height="6.2" fill="#fff" stroke="#111" stroke-width="1.1" stroke-linejoin="miter"/>
<rect x="533.33" y="183.73" width="6.2" height="6.2" fill="#fff" stroke="#111" stroke-width="1.1" stroke-linejoin="miter"/>
<rect x="545.72" y="174.76" width="6.2" height="6.2" fill="#fff" stroke="#111" stroke-width="1.1" stroke-linejoin="miter"/>
<rect x="556.79" y="165.79" width="6.2" height="6.2" fill="#fff" stroke="#111" stroke-width="1.1" stroke-linejoin="miter"/>
<rect x="568.16" y="156.82" width="6.2" height="6.2" fill="#fff" stroke="#111" stroke-width="1.1" stroke-linejoin="miter"/>
<rect x="580.86" y="147.85" width="6.2" height="6.2" fill="#fff" stroke="#111" stroke-width="1.1" stroke-linejoin="miter"/>
<rect x="596.23" y="138.88" width="6.2" height="6.2" fill="#fff" stroke="#111" stroke-width="1.1" stroke-linejoin="miter"/>
<rect x="610.67" y="129.91" width="6.2" height="6.2" fill="#fff" stroke="#111" stroke-width="1.1" stroke-linejoin="miter"/>
<rect x="625.12" y="120.94" width="6.2" height="6.2" fill="#fff" stroke="#111" stroke-width="1.1" stroke-linejoin="miter"/>
<rect x="639.56" y="111.97" width="6.2" height="6.2" fill="#fff" stroke="#111" stroke-width="1.1" stroke-linejoin="miter"/>
<rect x="652.27" y="103.00" width="6.2" height="6.2" fill="#fff" stroke="#111" stroke-width="1.1" stroke-linejoin="miter"/>
<rect x="664.66" y="94.03" width="6.2" height="6.2" fill="#fff" stroke="#111" stroke-width="1.1" stroke-linejoin="miter"/>
<rect x="675.73" y="85.06" width="6.2" height="6.2" fill="#fff" stroke="#111" stroke-width="1.1" stroke-linejoin="miter"/>
<rect x="686.90" y="76.09" width="6.2" height="6.2" fill="#fff" stroke="#111" stroke-width="1.1" stroke-linejoin="miter"/>
<rect x="697.35" y="67.12" width="6.2" height="6.2" fill="#fff" stroke="#111" stroke-width="1.1" stroke-linejoin="miter"/>
<rect x="707.18" y="58.15" width="6.2" height="6.2" fill="#fff" stroke="#111" stroke-width="1.1" stroke-linejoin="miter"/>
<rect x="717.32" y="49.18" width="6.2" height="6.2" fill="#fff" stroke="#111" stroke-width="1.1" stroke-linejoin="miter"/>
<rect x="726.03" y="40.21" width="6.2" height="6.2" fill="#fff" stroke="#111" stroke-width="1.1" stroke-linejoin="miter"/>
<rect x="733.92" y="31.24" width="6.2" height="6.2" fill="#fff" stroke="#111" stroke-width="1.1" stroke-linejoin="miter"/>
<rect x="741.60" y="22.27" width="6.2" height="6.2" fill="#fff" stroke="#111" stroke-width="1.1" stroke-linejoin="miter"/>
<rect x="748.88" y="13.30" width="6.2" height="6.2" fill="#fff" stroke="#111" stroke-width="1.1" stroke-linejoin="miter"/>
<circle cx="523.62" cy="213.74" r="3.6" fill="#fff" stroke="#111" stroke-width="1.1" stroke-linejoin="miter"/>
<circle cx="537.76" cy="204.77" r="3.6" fill="#fff" stroke="#111" stroke-width="1.1" stroke-linejoin="miter"/>
<circle cx="549.44" cy="195.80" r="3.6" fill="#fff" stroke="#111" stroke-width="1.1" stroke-linejoin="miter"/>
<circle cx="559.78" cy="186.83" r="3.6" fill="#fff" stroke="#111" stroke-width="1.1" stroke-linejoin="miter"/>
<circle cx="569.72" cy="177.86" r="3.6" fill="#fff" stroke="#111" stroke-width="1.1" stroke-linejoin="miter"/>
<circle cx="580.27" cy="168.89" r="3.6" fill="#fff" stroke="#111" stroke-width="1.1" stroke-linejoin="miter"/>
<circle cx="592.26" cy="159.92" r="3.6" fill="#fff" stroke="#111" stroke-width="1.1" stroke-linejoin="miter"/>
<circle cx="605.37" cy="150.95" r="3.6" fill="#fff" stroke="#111" stroke-width="1.1" stroke-linejoin="miter"/>
<circle cx="618.69" cy="141.98" r="3.6" fill="#fff" stroke="#111" stroke-width="1.1" stroke-linejoin="miter"/>
<circle cx="631.70" cy="133.01" r="3.6" fill="#fff" stroke="#111" stroke-width="1.1" stroke-linejoin="miter"/>
<circle cx="644.71" cy="124.04" r="3.6" fill="#fff" stroke="#111" stroke-width="1.1" stroke-linejoin="miter"/>
<circle cx="655.98" cy="115.07" r="3.6" fill="#fff" stroke="#111" stroke-width="1.1" stroke-linejoin="miter"/>
<circle cx="667.76" cy="106.10" r="3.6" fill="#fff" stroke="#111" stroke-width="1.1" stroke-linejoin="miter"/>
<circle cx="679.03" cy="97.13" r="3.6" fill="#fff" stroke="#111" stroke-width="1.1" stroke-linejoin="miter"/>
<circle cx="689.28" cy="88.16" r="3.6" fill="#fff" stroke="#111" stroke-width="1.1" stroke-linejoin="miter"/>
<circle cx="699.52" cy="79.19" r="3.6" fill="#fff" stroke="#111" stroke-width="1.1" stroke-linejoin="miter"/>
<circle cx="709.26" cy="70.22" r="3.6" fill="#fff" stroke="#111" stroke-width="1.1" stroke-linejoin="miter"/>
<circle cx="718.48" cy="61.25" r="3.6" fill="#fff" stroke="#111" stroke-width="1.1" stroke-linejoin="miter"/>
<circle cx="727.39" cy="52.28" r="3.6" fill="#fff" stroke="#111" stroke-width="1.1" stroke-linejoin="miter"/>
<circle cx="735.89" cy="43.31" r="3.6" fill="#fff" stroke="#111" stroke-width="1.1" stroke-linejoin="miter"/>
<circle cx="743.99" cy="34.34" r="3.6" fill="#fff" stroke="#111" stroke-width="1.1" stroke-linejoin="miter"/>
<circle cx="752.08" cy="25.37" r="3.6" fill="#fff" stroke="#111" stroke-width="1.1" stroke-linejoin="miter"/>
<circle cx="758.64" cy="16.40" r="3.6" fill="#fff" stroke="#111" stroke-width="1.1" stroke-linejoin="miter"/>
<path d="M527.41 218.21L531.51 225.01L523.31 225.01Z" fill="#fff" stroke="#111" stroke-width="1.1" stroke-linejoin="miter"/>
<path d="M541.85 209.24L545.95 216.04L537.75 216.04Z" fill="#fff" stroke="#111" stroke-width="1.1" stroke-linejoin="miter"/>
<path d="M553.53 200.27L557.63 207.07L549.43 207.07Z" fill="#fff" stroke="#111" stroke-width="1.1" stroke-linejoin="miter"/>
<path d="M564.29 191.30L568.39 198.10L560.19 198.10Z" fill="#fff" stroke="#111" stroke-width="1.1" stroke-linejoin="miter"/>
<path d="M574.64 182.33L578.74 189.13L570.54 189.13Z" fill="#fff" stroke="#111" stroke-width="1.1" stroke-linejoin="miter"/>
<path d="M584.17 173.36L588.27 180.16L580.07 180.16Z" fill="#fff" stroke="#111" stroke-width="1.1" stroke-linejoin="miter"/>
<path d="M595.13 164.39L599.23 171.19L591.03 171.19Z" fill="#fff" stroke="#111" stroke-width="1.1" stroke-linejoin="miter"/>
<path d="M606.60 155.42L610.70 162.22L602.50 162.22Z" fill="#fff" stroke="#111" stroke-width="1.1" stroke-linejoin="miter"/>
<path d="M619.10 146.45L623.20 153.25L615.00 153.25Z" fill="#fff" stroke="#111" stroke-width="1.1" stroke-linejoin="miter"/>
<path d="M631.50 137.48L635.60 144.28L627.40 144.28Z" fill="#fff" stroke="#111" stroke-width="1.1" stroke-linejoin="miter"/>
<path d="M643.59 128.51L647.69 135.31L639.49 135.31Z" fill="#fff" stroke="#111" stroke-width="1.1" stroke-linejoin="miter"/>
<path d="M655.57 119.54L659.67 126.34L651.47 126.34Z" fill="#fff" stroke="#111" stroke-width="1.1" stroke-linejoin="miter"/>
<path d="M666.95 110.57L671.05 117.37L662.85 117.37Z" fill="#fff" stroke="#111" stroke-width="1.1" stroke-linejoin="miter"/>
<path d="M677.19 101.60L681.29 108.40L673.09 108.40Z" fill="#fff" stroke="#111" stroke-width="1.1" stroke-linejoin="miter"/>
<path d="M686.92 92.63L691.02 99.43L682.82 99.43Z" fill="#fff" stroke="#111" stroke-width="1.1" stroke-linejoin="miter"/>
<path d="M697.07 83.66L701.17 90.46L692.97 90.46Z" fill="#fff" stroke="#111" stroke-width="1.1" stroke-linejoin="miter"/>
<path d="M706.80 74.69L710.90 81.49L702.70 81.49Z" fill="#fff" stroke="#111" stroke-width="1.1" stroke-linejoin="miter"/>
<path d="M716.12 65.72L720.22 72.52L712.02 72.52Z" fill="#fff" stroke="#111" stroke-width="1.1" stroke-linejoin="miter"/>
<path d="M724.73 56.75L728.83 63.55L720.63 63.55Z" fill="#fff" stroke="#111" stroke-width="1.1" stroke-linejoin="miter"/>
<path d="M733.33 47.78L737.43 54.58L729.23 54.58Z" fill="#fff" stroke="#111" stroke-width="1.1" stroke-linejoin="miter"/>
<path d="M741.43 38.81L745.53 45.61L737.33 45.61Z" fill="#fff" stroke="#111" stroke-width="1.1" stroke-linejoin="miter"/>
<path d="M749.11 29.84L753.21 36.64L745.01 36.64Z" fill="#fff" stroke="#111" stroke-width="1.1" stroke-linejoin="miter"/>
<path d="M756.69 20.87L760.79 27.67L752.59 27.67Z" fill="#fff" stroke="#111" stroke-width="1.1" stroke-linejoin="miter"/>
<path d="M763.76 11.90L767.86 18.70L759.66 18.70Z" fill="#fff" stroke="#111" stroke-width="1.1" stroke-linejoin="miter"/>
<path d="M528.76 227.21L532.86 220.41L524.66 220.41Z" fill="#fff" stroke="#111" stroke-width="1.1" stroke-linejoin="miter"/>
<path d="M544.44 218.24L548.54 211.44L540.34 211.44Z" fill="#fff" stroke="#111" stroke-width="1.1" stroke-linejoin="miter"/>
<path d="M557.28 209.27L561.38 202.47L553.18 202.47Z" fill="#fff" stroke="#111" stroke-width="1.1" stroke-linejoin="miter"/>
<path d="M567.42 200.30L571.52 193.50L563.32 193.50Z" fill="#fff" stroke="#111" stroke-width="1.1" stroke-linejoin="miter"/>
<path d="M577.97 191.33L582.07 184.53L573.87 184.53Z" fill="#fff" stroke="#111" stroke-width="1.1" stroke-linejoin="miter"/>
<path d="M587.88 182.36L591.98 175.56L583.78 175.56Z" fill="#fff" stroke="#111" stroke-width="1.1" stroke-linejoin="miter"/>
<path d="M598.71 173.39L602.81 166.59L594.61 166.59Z" fill="#fff" stroke="#111" stroke-width="1.1" stroke-linejoin="miter"/>
<path d="M610.03 164.42L614.13 157.62L605.93 157.62Z" fill="#fff" stroke="#111" stroke-width="1.1" stroke-linejoin="miter"/>
<path d="M622.35 155.45L626.45 148.65L618.25 148.65Z" fill="#fff" stroke="#111" stroke-width="1.1" stroke-linejoin="miter"/>
<path d="M634.65 146.48L638.75 139.68L630.55 139.68Z" fill="#fff" stroke="#111" stroke-width="1.1" stroke-linejoin="miter"/>
<path d="M646.35 137.51L650.45 130.71L642.25 130.71Z" fill="#fff" stroke="#111" stroke-width="1.1" stroke-linejoin="miter"/>
<path d="M658.16 128.54L662.26 121.74L654.06 121.74Z" fill="#fff" stroke="#111" stroke-width="1.1" stroke-linejoin="miter"/>
<path d="M669.12 119.57L673.22 112.77L665.02 112.77Z" fill="#fff" stroke="#111" stroke-width="1.1" stroke-linejoin="miter"/>
<path d="M679.50 110.60L683.60 103.80L675.40 103.80Z" fill="#fff" stroke="#111" stroke-width="1.1" stroke-linejoin="miter"/>
<path d="M689.23 101.63L693.33 94.83L685.13 94.83Z" fill="#fff" stroke="#111" stroke-width="1.1" stroke-linejoin="miter"/>
<path d="M699.06 92.66L703.16 85.86L694.96 85.86Z" fill="#fff" stroke="#111" stroke-width="1.1" stroke-linejoin="miter"/>
<path d="M708.59 83.69L712.69 76.89L704.49 76.89Z" fill="#fff" stroke="#111" stroke-width="1.1" stroke-linejoin="miter"/>
<path d="M717.63 74.72L721.73 67.92L713.53 67.92Z" fill="#fff" stroke="#111" stroke-width="1.1" stroke-linejoin="miter"/>
<path d="M726.11 65.75L730.21 58.95L722.01 58.95Z" fill="#fff" stroke="#111" stroke-width="1.1" stroke-linejoin="miter"/>
<path d="M734.54 56.78L738.64 49.98L730.44 49.98Z" fill="#fff" stroke="#111" stroke-width="1.1" stroke-linejoin="miter"/>
<path d="M742.60 47.81L746.70 41.01L738.50 41.01Z" fill="#fff" stroke="#111" stroke-width="1.1" stroke-linejoin="miter"/>
<path d="M750.13 38.84L754.23 32.04L746.03 32.04Z" fill="#fff" stroke="#111" stroke-width="1.1" stroke-linejoin="miter"/>
<path d="M757.64 29.87L761.74 23.07L753.54 23.07Z" fill="#fff" stroke="#111" stroke-width="1.1" stroke-linejoin="miter"/>
<path d="M764.66 20.90L768.76 14.10L760.56 14.10Z" fill="#fff" stroke="#111" stroke-width="1.1" stroke-linejoin="miter"/>
<path d="M524.36 222.71L528.76 218.31L533.16 222.71L528.76 227.11Z" fill="#fff" stroke="#111" stroke-width="1.1" stroke-linejoin="miter"/>
<path d="M540.37 213.74L544.77 209.34L549.17 213.74L544.77 218.14Z" fill="#fff" stroke="#111" stroke-width="1.1" stroke-linejoin="miter"/>
<path d="M555.53 204.77L559.93 200.37L564.33 204.77L559.93 209.17Z" fill="#fff" stroke="#111" stroke-width="1.1" stroke-linejoin="miter"/>
<path d="M567.68 195.80L572.08 191.40L576.48 195.80L572.08 200.20Z" fill="#fff" stroke="#111" stroke-width="1.1" stroke-linejoin="miter"/>
<path d="M578.43 186.83L582.83 182.43L587.23 186.83L582.83 191.23Z" fill="#fff" stroke="#111" stroke-width="1.1" stroke-linejoin="miter"/>
<path d="M588.73 177.86L593.13 173.46L597.53 177.86L593.13 182.26Z" fill="#fff" stroke="#111" stroke-width="1.1" stroke-linejoin="miter"/>
<path d="M599.44 168.89L603.84 164.49L608.24 168.89L603.84 173.29Z" fill="#fff" stroke="#111" stroke-width="1.1" stroke-linejoin="miter"/>
<path d="M610.60 159.92L615.00 155.52L619.40 159.92L615.00 164.32Z" fill="#fff" stroke="#111" stroke-width="1.1" stroke-linejoin="miter"/>
<path d="M622.74 150.95L627.14 146.55L631.54 150.95L627.14 155.35Z" fill="#fff" stroke="#111" stroke-width="1.1" stroke-linejoin="miter"/>
<path d="M634.94 141.98L639.34 137.58L643.74 141.98L639.34 146.38Z" fill="#fff" stroke="#111" stroke-width="1.1" stroke-linejoin="miter"/>
<path d="M646.26 133.01L650.66 128.61L655.06 133.01L650.66 137.41Z" fill="#fff" stroke="#111" stroke-width="1.1" stroke-linejoin="miter"/>
<path d="M657.88 124.04L662.28 119.64L666.68 124.04L662.28 128.44Z" fill="#fff" stroke="#111" stroke-width="1.1" stroke-linejoin="miter"/>
<path d="M668.44 115.07L672.84 110.67L677.24 115.07L672.84 119.47Z" fill="#fff" stroke="#111" stroke-width="1.1" stroke-linejoin="miter"/>
<path d="M678.94 106.10L683.34 101.70L687.74 106.10L683.34 110.50Z" fill="#fff" stroke="#111" stroke-width="1.1" stroke-linejoin="miter"/>
<path d="M688.67 97.13L693.07 92.73L697.47 97.13L693.07 101.53Z" fill="#fff" stroke="#111" stroke-width="1.1" stroke-linejoin="miter"/>
<path d="M698.20 88.16L702.60 83.76L707.00 88.16L702.60 92.56Z" fill="#fff" stroke="#111" stroke-width="1.1" stroke-linejoin="miter"/>
<path d="M707.52 79.19L711.92 74.79L716.32 79.19L711.92 83.59Z" fill="#fff" stroke="#111" stroke-width="1.1" stroke-linejoin="miter"/>
<path d="M716.28 70.22L720.68 65.82L725.08 70.22L720.68 74.62Z" fill="#fff" stroke="#111" stroke-width="1.1" stroke-linejoin="miter"/>
<path d="M724.63 61.25L729.03 56.85L733.43 61.25L729.03 65.65Z" fill="#fff" stroke="#111" stroke-width="1.1" stroke-linejoin="miter"/>
<path d="M732.88 52.28L737.28 47.88L741.68 52.28L737.28 56.68Z" fill="#fff" stroke="#111" stroke-width="1.1" stroke-linejoin="miter"/>
<path d="M740.92 43.31L745.32 38.91L749.72 43.31L745.32 47.71Z" fill="#fff" stroke="#111" stroke-width="1.1" stroke-linejoin="miter"/>
<path d="M748.29 34.34L752.69 29.94L757.09 34.34L752.69 38.74Z" fill="#fff" stroke="#111" stroke-width="1.1" stroke-linejoin="miter"/>
<path d="M755.72 25.37L760.12 20.97L764.52 25.37L760.12 29.77Z" fill="#fff" stroke="#111" stroke-width="1.1" stroke-linejoin="miter"/>
<path d="M762.69 16.40L767.09 12.00L771.49 16.40L767.09 20.80Z" fill="#fff" stroke="#111" stroke-width="1.1" stroke-linejoin="miter"/>
<path d="M518.50 231.68L525.30 227.58L525.30 235.78Z" fill="#fff" stroke="#111" stroke-width="1.1" stroke-linejoin="miter"/>
<path d="M537.87 222.71L544.67 218.61L544.67 226.81Z" fill="#fff" stroke="#111" stroke-width="1.1" stroke-linejoin="miter"/>
<path d="M552.31 213.74L559.11 209.64L559.11 217.84Z" fill="#fff" stroke="#111" stroke-width="1.1" stroke-linejoin="miter"/>
<path d="M563.36 204.77L570.16 200.67L570.16 208.87Z" fill="#fff" stroke="#111" stroke-width="1.1" stroke-linejoin="miter"/>
<path d="M573.17 195.80L579.97 191.70L579.97 199.90Z" fill="#fff" stroke="#111" stroke-width="1.1" stroke-linejoin="miter"/>
<path d="M583.20 186.83L590.00 182.73L590.00 190.93Z" fill="#fff" stroke="#111" stroke-width="1.1" stroke-linejoin="miter"/>
<path d="M593.88 177.86L600.68 173.76L600.68 181.96Z" fill="#fff" stroke="#111" stroke-width="1.1" stroke-linejoin="miter"/>
<path d="M604.46 168.89L611.26 164.79L611.26 172.99Z" fill="#fff" stroke="#111" stroke-width="1.1" stroke-linejoin="miter"/>
<path d="M615.47 159.92L622.27 155.82L622.27 164.02Z" fill="#fff" stroke="#111" stroke-width="1.1" stroke-linejoin="miter"/>
<path d="M627.43 150.95L634.23 146.85L634.23 155.05Z" fill="#fff" stroke="#111" stroke-width="1.1" stroke-linejoin="miter"/>
<path d="M639.52 141.98L646.32 137.88L646.32 146.08Z" fill="#fff" stroke="#111" stroke-width="1.1" stroke-linejoin="miter"/>
<path d="M650.46 133.01L657.26 128.91L657.26 137.11Z" fill="#fff" stroke="#111" stroke-width="1.1" stroke-linejoin="miter"/>
<path d="M661.91 124.04L668.71 119.94L668.71 128.14Z" fill="#fff" stroke="#111" stroke-width="1.1" stroke-linejoin="miter"/>
<path d="M672.05 115.07L678.85 110.97L678.85 119.17Z" fill="#fff" stroke="#111" stroke-width="1.1" stroke-linejoin="miter"/>
<path d="M682.68 106.10L689.48 102.00L689.48 110.20Z" fill="#fff" stroke="#111" stroke-width="1.1" stroke-linejoin="miter"/>
<path d="M692.41 97.13L699.21 93.03L699.21 101.23Z" fill="#fff" stroke="#111" stroke-width="1.1" stroke-linejoin="miter"/>
<path d="M701.63 88.16L708.43 84.06L708.43 92.26Z" fill="#fff" stroke="#111" stroke-width="1.1" stroke-linejoin="miter"/>
<path d="M710.75 79.19L717.55 75.09L717.55 83.29Z" fill="#fff" stroke="#111" stroke-width="1.1" stroke-linejoin="miter"/>
<path d="M719.23 70.22L726.03 66.12L726.03 74.32Z" fill="#fff" stroke="#111" stroke-width="1.1" stroke-linejoin="miter"/>
<path d="M727.45 61.25L734.25 57.15L734.25 65.35Z" fill="#fff" stroke="#111" stroke-width="1.1" stroke-linejoin="miter"/>
<path d="M735.52 52.28L742.32 48.18L742.32 56.38Z" fill="#fff" stroke="#111" stroke-width="1.1" stroke-linejoin="miter"/>
<path d="M743.53 43.31L750.33 39.21L750.33 47.41Z" fill="#fff" stroke="#111" stroke-width="1.1" stroke-linejoin="miter"/>
<path d="M750.76 34.34L757.56 30.24L757.56 38.44Z" fill="#fff" stroke="#111" stroke-width="1.1" stroke-linejoin="miter"/>
<path d="M758.11 25.37L764.91 21.27L764.91 29.47Z" fill="#fff" stroke="#111" stroke-width="1.1" stroke-linejoin="miter"/>
<path d="M765.02 16.40L771.82 12.30L771.82 20.50Z" fill="#fff" stroke="#111" stroke-width="1.1" stroke-linejoin="miter"/>
<path d="M527.50 231.68L520.70 227.58L520.70 235.78Z" fill="#fff" stroke="#111" stroke-width="1.1" stroke-linejoin="miter"/>
<path d="M546.87 222.71L540.07 218.61L540.07 226.81Z" fill="#fff" stroke="#111" stroke-width="1.1" stroke-linejoin="miter"/>
<path d="M561.31 213.74L554.51 209.64L554.51 217.84Z" fill="#fff" stroke="#111" stroke-width="1.1" stroke-linejoin="miter"/>
<path d="M574.12 204.77L567.32 200.67L567.32 208.87Z" fill="#fff" stroke="#111" stroke-width="1.1" stroke-linejoin="miter"/>
<path d="M585.90 195.80L579.10 191.70L579.10 199.90Z" fill="#fff" stroke="#111" stroke-width="1.1" stroke-linejoin="miter"/>
<path d="M597.07 186.83L590.27 182.73L590.27 190.93Z" fill="#fff" stroke="#111" stroke-width="1.1" stroke-linejoin="miter"/>
<path d="M608.13 177.86L601.33 173.76L601.33 181.96Z" fill="#fff" stroke="#111" stroke-width="1.1" stroke-linejoin="miter"/>
<path d="M618.58 168.89L611.78 164.79L611.78 172.99Z" fill="#fff" stroke="#111" stroke-width="1.1" stroke-linejoin="miter"/>
<path d="M629.44 159.92L622.64 155.82L622.64 164.02Z" fill="#fff" stroke="#111" stroke-width="1.1" stroke-linejoin="miter"/>
<path d="M641.22 150.95L634.42 146.85L634.42 155.05Z" fill="#fff" stroke="#111" stroke-width="1.1" stroke-linejoin="miter"/>
<path d="M653.21 141.98L646.41 137.88L646.41 146.08Z" fill="#fff" stroke="#111" stroke-width="1.1" stroke-linejoin="miter"/>
<path d="M663.76 133.01L656.96 128.91L656.96 137.11Z" fill="#fff" stroke="#111" stroke-width="1.1" stroke-linejoin="miter"/>
<path d="M675.03 124.04L668.23 119.94L668.23 128.14Z" fill="#fff" stroke="#111" stroke-width="1.1" stroke-linejoin="miter"/>
<path d="M684.76 115.07L677.96 110.97L677.96 119.17Z" fill="#fff" stroke="#111" stroke-width="1.1" stroke-linejoin="miter"/>
<path d="M695.52 106.10L688.72 102.00L688.72 110.20Z" fill="#fff" stroke="#111" stroke-width="1.1" stroke-linejoin="miter"/>
<path d="M705.25 97.13L698.45 93.03L698.45 101.23Z" fill="#fff" stroke="#111" stroke-width="1.1" stroke-linejoin="miter"/>
<path d="M714.17 88.16L707.37 84.06L707.37 92.26Z" fill="#fff" stroke="#111" stroke-width="1.1" stroke-linejoin="miter"/>
<path d="M723.08 79.19L716.28 75.09L716.28 83.29Z" fill="#fff" stroke="#111" stroke-width="1.1" stroke-linejoin="miter"/>
<path d="M731.28 70.22L724.48 66.12L724.48 74.32Z" fill="#fff" stroke="#111" stroke-width="1.1" stroke-linejoin="miter"/>
<path d="M739.37 61.25L732.57 57.15L732.57 65.35Z" fill="#fff" stroke="#111" stroke-width="1.1" stroke-linejoin="miter"/>
<path d="M747.26 52.28L740.46 48.18L740.46 56.38Z" fill="#fff" stroke="#111" stroke-width="1.1" stroke-linejoin="miter"/>
<path d="M755.25 43.31L748.45 39.21L748.45 47.41Z" fill="#fff" stroke="#111" stroke-width="1.1" stroke-linejoin="miter"/>
<path d="M762.32 34.34L755.52 30.24L755.52 38.44Z" fill="#fff" stroke="#111" stroke-width="1.1" stroke-linejoin="miter"/>
<path d="M769.59 25.37L762.79 21.27L762.79 29.47Z" fill="#fff" stroke="#111" stroke-width="1.1" stroke-linejoin="miter"/>
<path d="M776.46 16.40L769.66 12.30L769.66 20.50Z" fill="#fff" stroke="#111" stroke-width="1.1" stroke-linejoin="miter"/>
<rect x="463.00" y="144.71" width="7.2" height="7.2" fill="#000"/>
<rect x="475.55" y="143.05" width="7.2" height="7.2" fill="#000"/>
<rect x="488.10" y="141.75" width="7.2" height="7.2" fill="#000"/>
<rect x="500.65" y="140.00" width="7.2" height="7.2" fill="#000"/>
<rect x="513.20" y="137.93" width="7.2" height="7.2" fill="#000"/>
<rect x="525.75" y="135.65" width="7.2" height="7.2" fill="#000"/>
<rect x="538.30" y="132.96" width="7.2" height="7.2" fill="#000"/>
<rect x="550.85" y="130.27" width="7.2" height="7.2" fill="#000"/>
<rect x="563.40" y="126.72" width="7.2" height="7.2" fill="#000"/>
<rect x="575.95" y="122.82" width="7.2" height="7.2" fill="#000"/>
<rect x="588.50" y="118.20" width="7.2" height="7.2" fill="#000"/>
<rect x="601.05" y="112.01" width="7.2" height="7.2" fill="#000"/>
<rect x="613.60" y="104.88" width="7.2" height="7.2" fill="#000"/>
<rect x="49.6" y="304.2" width="332.10" height="245.10" fill="none" stroke="#111" stroke-width="1.1"/>
<path d="M86.58 549.3v-1.9M86.58 304.2v1.9M108.21 549.3v-1.9M108.21 304.2v1.9M123.56 549.3v-1.9M123.56 304.2v1.9M135.47 549.3v-1.9M135.47 304.2v1.9M145.20 549.3v-1.9M145.20 304.2v1.9M153.42 549.3v-1.9M153.42 304.2v1.9M160.54 549.3v-1.9M160.54 304.2v1.9M166.83 549.3v-1.9M166.83 304.2v1.9M172.45 549.3v-4.0M172.45 304.2v4.0M209.43 549.3v-1.9M209.43 304.2v1.9M231.06 549.3v-1.9M231.06 304.2v1.9M246.41 549.3v-1.9M246.41 304.2v1.9M258.32 549.3v-1.9M258.32 304.2v1.9M268.05 549.3v-1.9M268.05 304.2v1.9M276.27 549.3v-1.9M276.27 304.2v1.9M283.39 549.3v-1.9M283.39 304.2v1.9M289.68 549.3v-1.9M289.68 304.2v1.9M295.30 549.3v-4.0M295.30 304.2v4.0M332.28 549.3v-1.9M332.28 304.2v1.9M353.91 549.3v-1.9M353.91 304.2v1.9M369.26 549.3v-1.9M369.26 304.2v1.9M49.6 541.22h2.4M381.7 541.22h-2.4M49.6 535.10h2.4M381.7 535.10h-2.4M49.6 530.35h2.4M381.7 530.35h-2.4M49.6 526.47h2.4M381.7 526.47h-2.4M49.6 523.19h2.4M381.7 523.19h-2.4M49.6 520.35h2.4M381.7 520.35h-2.4M49.6 517.84h2.4M381.7 517.84h-2.4M49.6 515.60h4.7M381.7 515.60h-4.7M49.6 500.85h2.4M381.7 500.85h-2.4M49.6 492.22h2.4M381.7 492.22h-2.4M49.6 486.10h2.4M381.7 486.10h-2.4M49.6 481.35h2.4M381.7 481.35h-2.4M49.6 477.47h2.4M381.7 477.47h-2.4M49.6 474.19h2.4M381.7 474.19h-2.4M49.6 471.35h2.4M381.7 471.35h-2.4M49.6 468.84h2.4M381.7 468.84h-2.4M49.6 466.60h4.7M381.7 466.60h-4.7M49.6 451.85h2.4M381.7 451.85h-2.4M49.6 443.22h2.4M381.7 443.22h-2.4M49.6 437.10h2.4M381.7 437.10h-2.4M49.6 432.35h2.4M381.7 432.35h-2.4M49.6 428.47h2.4M381.7 428.47h-2.4M49.6 425.19h2.4M381.7 425.19h-2.4M49.6 422.35h2.4M381.7 422.35h-2.4M49.6 419.84h2.4M381.7 419.84h-2.4M49.6 417.60h4.7M381.7 417.60h-4.7M49.6 402.85h2.4M381.7 402.85h-2.4M49.6 394.22h2.4M381.7 394.22h-2.4M49.6 388.10h2.4M381.7 388.10h-2.4M49.6 383.35h2.4M381.7 383.35h-2.4M49.6 379.47h2.4M381.7 379.47h-2.4M49.6 376.19h2.4M381.7 376.19h-2.4M49.6 373.35h2.4M381.7 373.35h-2.4M49.6 370.84h2.4M381.7 370.84h-2.4M49.6 368.60h4.7M381.7 368.60h-4.7M49.6 353.85h2.4M381.7 353.85h-2.4M49.6 345.22h2.4M381.7 345.22h-2.4M49.6 339.10h2.4M381.7 339.10h-2.4M49.6 334.35h2.4M381.7 334.35h-2.4M49.6 330.47h2.4M381.7 330.47h-2.4M49.6 327.19h2.4M381.7 327.19h-2.4M49.6 324.35h2.4M381.7 324.35h-2.4M49.6 321.84h2.4M381.7 321.84h-2.4M49.6 319.60h4.7M381.7 319.60h-4.7" stroke="#111" stroke-width="1" fill="none"/>
<text x="40.27" y="566.50" font-size="13" textLength="13.6" lengthAdjust="spacingAndGlyphs">10</text><text x="54.17" y="559.60" font-size="7.2">0</text>
<text x="163.12" y="566.50" font-size="13" textLength="13.6" lengthAdjust="spacingAndGlyphs">10</text><text x="177.02" y="559.60" font-size="7.2">1</text>
<text x="285.97" y="566.50" font-size="13" textLength="13.6" lengthAdjust="spacingAndGlyphs">10</text><text x="299.87" y="559.60" font-size="7.2">2</text>
<text x="24.04" y="519.20" font-size="13" textLength="13.6" lengthAdjust="spacingAndGlyphs">10</text><text x="37.34" y="512.70" font-size="7.2">-2</text>
<text x="24.04" y="470.20" font-size="13" textLength="13.6" lengthAdjust="spacingAndGlyphs">10</text><text x="37.34" y="463.70" font-size="7.2">-1</text>
<text x="26.44" y="421.20" font-size="13" textLength="13.6" lengthAdjust="spacingAndGlyphs">10</text><text x="39.74" y="414.70" font-size="7.2">0</text>
<text x="26.44" y="372.20" font-size="13" textLength="13.6" lengthAdjust="spacingAndGlyphs">10</text><text x="39.74" y="365.70" font-size="7.2">1</text>
<text x="26.44" y="323.20" font-size="13" textLength="13.6" lengthAdjust="spacingAndGlyphs">10</text><text x="39.74" y="316.70" font-size="7.2">2</text>
<rect x="113.33" y="393.80" width="6.2" height="6.2" fill="#fff" stroke="#111" stroke-width="1.1" stroke-linejoin="miter"/>
<rect x="125.62" y="402.10" width="6.2" height="6.2" fill="#fff" stroke="#111" stroke-width="1.1" stroke-linejoin="miter"/>
<rect x="137.90" y="409.30" width="6.2" height="6.2" fill="#fff" stroke="#111" stroke-width="1.1" stroke-linejoin="miter"/>
<rect x="150.19" y="415.20" width="6.2" height="6.2" fill="#fff" stroke="#111" stroke-width="1.1" stroke-linejoin="miter"/>
<rect x="162.47" y="421.40" width="6.2" height="6.2" fill="#fff" stroke="#111" stroke-width="1.1" stroke-linejoin="miter"/>
<rect x="174.76" y="428.90" width="6.2" height="6.2" fill="#fff" stroke="#111" stroke-width="1.1" stroke-linejoin="miter"/>
<rect x="187.04" y="439.00" width="6.2" height="6.2" fill="#fff" stroke="#111" stroke-width="1.1" stroke-linejoin="miter"/>
<rect x="199.33" y="448.20" width="6.2" height="6.2" fill="#fff" stroke="#111" stroke-width="1.1" stroke-linejoin="miter"/>
<rect x="211.61" y="457.40" width="6.2" height="6.2" fill="#fff" stroke="#111" stroke-width="1.1" stroke-linejoin="miter"/>
<rect x="223.90" y="466.60" width="6.2" height="6.2" fill="#fff" stroke="#111" stroke-width="1.1" stroke-linejoin="miter"/>
<rect x="236.18" y="474.10" width="6.2" height="6.2" fill="#fff" stroke="#111" stroke-width="1.1" stroke-linejoin="miter"/>
<rect x="248.47" y="481.30" width="6.2" height="6.2" fill="#fff" stroke="#111" stroke-width="1.1" stroke-linejoin="miter"/>
<rect x="260.75" y="487.20" width="6.2" height="6.2" fill="#fff" stroke="#111" stroke-width="1.1" stroke-linejoin="miter"/>
<rect x="273.04" y="493.20" width="6.2" height="6.2" fill="#fff" stroke="#111" stroke-width="1.1" stroke-linejoin="miter"/>
<rect x="285.32" y="498.50" width="6.2" height="6.2" fill="#fff" stroke="#111" stroke-width="1.1" stroke-linejoin="miter"/>
<rect x="297.61" y="503.20" width="6.2" height="6.2" fill="#fff" stroke="#111" stroke-width="1.1" stroke-linejoin="miter"/>
<rect x="309.89" y="508.20" width="6.2" height="6.2" fill="#fff" stroke="#111" stroke-width="1.1" stroke-linejoin="miter"/>
<rect x="322.18" y="511.80" width="6.2" height="6.2" fill="#fff" stroke="#111" stroke-width="1.1" stroke-linejoin="miter"/>
<rect x="334.46" y="514.60" width="6.2" height="6.2" fill="#fff" stroke="#111" stroke-width="1.1" stroke-linejoin="miter"/>
<rect x="346.75" y="517.20" width="6.2" height="6.2" fill="#fff" stroke="#111" stroke-width="1.1" stroke-linejoin="miter"/>
<rect x="359.03" y="519.40" width="6.2" height="6.2" fill="#fff" stroke="#111" stroke-width="1.1" stroke-linejoin="miter"/>
<circle cx="91.86" cy="407.40" r="3.6" fill="#fff" stroke="#111" stroke-width="1.1" stroke-linejoin="miter"/>
<circle cx="104.15" cy="416.30" r="3.6" fill="#fff" stroke="#111" stroke-width="1.1" stroke-linejoin="miter"/>
<circle cx="116.43" cy="422.80" r="3.6" fill="#fff" stroke="#111" stroke-width="1.1" stroke-linejoin="miter"/>
<circle cx="128.72" cy="428.00" r="3.6" fill="#fff" stroke="#111" stroke-width="1.1" stroke-linejoin="miter"/>
<circle cx="141.00" cy="432.80" r="3.6" fill="#fff" stroke="#111" stroke-width="1.1" stroke-linejoin="miter"/>
<circle cx="153.29" cy="438.20" r="3.6" fill="#fff" stroke="#111" stroke-width="1.1" stroke-linejoin="miter"/>
<circle cx="165.57" cy="445.00" r="3.6" fill="#fff" stroke="#111" stroke-width="1.1" stroke-linejoin="miter"/>
<circle cx="177.86" cy="452.90" r="3.6" fill="#fff" stroke="#111" stroke-width="1.1" stroke-linejoin="miter"/>
<circle cx="190.14" cy="461.00" r="3.6" fill="#fff" stroke="#111" stroke-width="1.1" stroke-linejoin="miter"/>
<circle cx="202.43" cy="468.80" r="3.6" fill="#fff" stroke="#111" stroke-width="1.1" stroke-linejoin="miter"/>
<circle cx="214.71" cy="476.60" r="3.6" fill="#fff" stroke="#111" stroke-width="1.1" stroke-linejoin="miter"/>
<circle cx="227.00" cy="482.70" r="3.6" fill="#fff" stroke="#111" stroke-width="1.1" stroke-linejoin="miter"/>
<circle cx="239.28" cy="489.30" r="3.6" fill="#fff" stroke="#111" stroke-width="1.1" stroke-linejoin="miter"/>
<circle cx="251.57" cy="495.40" r="3.6" fill="#fff" stroke="#111" stroke-width="1.1" stroke-linejoin="miter"/>
<circle cx="263.85" cy="500.50" r="3.6" fill="#fff" stroke="#111" stroke-width="1.1" stroke-linejoin="miter"/>
<circle cx="276.14" cy="505.60" r="3.6" fill="#fff" stroke="#111" stroke-width="1.1" stroke-linejoin="miter"/>
<circle cx="288.42" cy="510.20" r="3.6" fill="#fff" stroke="#111" stroke-width="1.1" stroke-linejoin="miter"/>
<circle cx="300.71" cy="514.30" r="3.6" fill="#fff" stroke="#111" stroke-width="1.1" stroke-linejoin="miter"/>
<circle cx="312.99" cy="518.10" r="3.6" fill="#fff" stroke="#111" stroke-width="1.1" stroke-linejoin="miter"/>
<circle cx="325.28" cy="521.50" r="3.6" fill="#fff" stroke="#111" stroke-width="1.1" stroke-linejoin="miter"/>
<circle cx="337.56" cy="524.50" r="3.6" fill="#fff" stroke="#111" stroke-width="1.1" stroke-linejoin="miter"/>
<circle cx="349.85" cy="527.50" r="3.6" fill="#fff" stroke="#111" stroke-width="1.1" stroke-linejoin="miter"/>
<circle cx="362.13" cy="529.00" r="3.6" fill="#fff" stroke="#111" stroke-width="1.1" stroke-linejoin="miter"/>
<path d="M79.58 411.50L83.68 418.30L75.48 418.30Z" fill="#fff" stroke="#111" stroke-width="1.1" stroke-linejoin="miter"/>
<path d="M91.86 420.70L95.96 427.50L87.76 427.50Z" fill="#fff" stroke="#111" stroke-width="1.1" stroke-linejoin="miter"/>
<path d="M104.15 427.20L108.25 434.00L100.05 434.00Z" fill="#fff" stroke="#111" stroke-width="1.1" stroke-linejoin="miter"/>
<path d="M116.43 432.80L120.53 439.60L112.33 439.60Z" fill="#fff" stroke="#111" stroke-width="1.1" stroke-linejoin="miter"/>
<path d="M128.72 438.00L132.82 444.80L124.62 444.80Z" fill="#fff" stroke="#111" stroke-width="1.1" stroke-linejoin="miter"/>
<path d="M141.00 442.40L145.10 449.20L136.90 449.20Z" fill="#fff" stroke="#111" stroke-width="1.1" stroke-linejoin="miter"/>
<path d="M153.29 448.20L157.39 455.00L149.19 455.00Z" fill="#fff" stroke="#111" stroke-width="1.1" stroke-linejoin="miter"/>
<path d="M165.57 454.50L169.67 461.30L161.47 461.30Z" fill="#fff" stroke="#111" stroke-width="1.1" stroke-linejoin="miter"/>
<path d="M177.86 461.80L181.96 468.60L173.76 468.60Z" fill="#fff" stroke="#111" stroke-width="1.1" stroke-linejoin="miter"/>
<path d="M190.14 469.00L194.24 475.80L186.04 475.80Z" fill="#fff" stroke="#111" stroke-width="1.1" stroke-linejoin="miter"/>
<path d="M202.43 475.90L206.53 482.70L198.33 482.70Z" fill="#fff" stroke="#111" stroke-width="1.1" stroke-linejoin="miter"/>
<path d="M214.71 482.70L218.81 489.50L210.61 489.50Z" fill="#fff" stroke="#111" stroke-width="1.1" stroke-linejoin="miter"/>
<path d="M227.00 488.90L231.10 495.70L222.90 495.70Z" fill="#fff" stroke="#111" stroke-width="1.1" stroke-linejoin="miter"/>
<path d="M239.28 494.00L243.38 500.80L235.18 500.80Z" fill="#fff" stroke="#111" stroke-width="1.1" stroke-linejoin="miter"/>
<path d="M251.57 498.60L255.67 505.40L247.47 505.40Z" fill="#fff" stroke="#111" stroke-width="1.1" stroke-linejoin="miter"/>
<path d="M263.85 503.60L267.95 510.40L259.75 510.40Z" fill="#fff" stroke="#111" stroke-width="1.1" stroke-linejoin="miter"/>
<path d="M276.14 508.20L280.24 515.00L272.04 515.00Z" fill="#fff" stroke="#111" stroke-width="1.1" stroke-linejoin="miter"/>
<path d="M288.42 512.40L292.52 519.20L284.32 519.20Z" fill="#fff" stroke="#111" stroke-width="1.1" stroke-linejoin="miter"/>
<path d="M300.71 515.90L304.81 522.70L296.61 522.70Z" fill="#fff" stroke="#111" stroke-width="1.1" stroke-linejoin="miter"/>
<path d="M312.99 519.40L317.09 526.20L308.89 526.20Z" fill="#fff" stroke="#111" stroke-width="1.1" stroke-linejoin="miter"/>
<path d="M325.28 522.40L329.38 529.20L321.18 529.20Z" fill="#fff" stroke="#111" stroke-width="1.1" stroke-linejoin="miter"/>
<path d="M337.56 525.00L341.66 531.80L333.46 531.80Z" fill="#fff" stroke="#111" stroke-width="1.1" stroke-linejoin="miter"/>
<path d="M349.85 527.50L353.95 534.30L345.75 534.30Z" fill="#fff" stroke="#111" stroke-width="1.1" stroke-linejoin="miter"/>
<path d="M362.13 529.50L366.23 536.30L358.03 536.30Z" fill="#fff" stroke="#111" stroke-width="1.1" stroke-linejoin="miter"/>
<path d="M79.58 421.81L83.68 415.01L75.48 415.01Z" fill="#fff" stroke="#111" stroke-width="1.1" stroke-linejoin="miter"/>
<path d="M91.86 432.23L95.96 425.43L87.76 425.43Z" fill="#fff" stroke="#111" stroke-width="1.1" stroke-linejoin="miter"/>
<path d="M104.15 439.86L108.25 433.06L100.05 433.06Z" fill="#fff" stroke="#111" stroke-width="1.1" stroke-linejoin="miter"/>
<path d="M116.43 444.85L120.53 438.05L112.33 438.05Z" fill="#fff" stroke="#111" stroke-width="1.1" stroke-linejoin="miter"/>
<path d="M128.72 450.25L132.82 443.45L124.62 443.45Z" fill="#fff" stroke="#111" stroke-width="1.1" stroke-linejoin="miter"/>
<path d="M141.00 455.02L145.10 448.22L136.90 448.22Z" fill="#fff" stroke="#111" stroke-width="1.1" stroke-linejoin="miter"/>
<path d="M153.29 460.70L157.39 453.90L149.19 453.90Z" fill="#fff" stroke="#111" stroke-width="1.1" stroke-linejoin="miter"/>
<path d="M165.57 466.85L169.67 460.05L161.47 460.05Z" fill="#fff" stroke="#111" stroke-width="1.1" stroke-linejoin="miter"/>
<path d="M177.86 473.98L181.96 467.18L173.76 467.18Z" fill="#fff" stroke="#111" stroke-width="1.1" stroke-linejoin="miter"/>
<path d="M190.14 481.07L194.24 474.27L186.04 474.27Z" fill="#fff" stroke="#111" stroke-width="1.1" stroke-linejoin="miter"/>
<path d="M202.43 487.60L206.53 480.80L198.33 480.80Z" fill="#fff" stroke="#111" stroke-width="1.1" stroke-linejoin="miter"/>
<path d="M214.71 494.23L218.81 487.43L210.61 487.43Z" fill="#fff" stroke="#111" stroke-width="1.1" stroke-linejoin="miter"/>
<path d="M227.00 500.02L231.10 493.22L222.90 493.22Z" fill="#fff" stroke="#111" stroke-width="1.1" stroke-linejoin="miter"/>
<path d="M239.28 505.25L243.38 498.45L235.18 498.45Z" fill="#fff" stroke="#111" stroke-width="1.1" stroke-linejoin="miter"/>
<path d="M251.57 509.85L255.67 503.05L247.47 503.05Z" fill="#fff" stroke="#111" stroke-width="1.1" stroke-linejoin="miter"/>
<path d="M263.85 514.55L267.95 507.75L259.75 507.75Z" fill="#fff" stroke="#111" stroke-width="1.1" stroke-linejoin="miter"/>
<path d="M276.14 518.95L280.24 512.15L272.04 512.15Z" fill="#fff" stroke="#111" stroke-width="1.1" stroke-linejoin="miter"/>
<path d="M288.42 522.88L292.52 516.08L284.32 516.08Z" fill="#fff" stroke="#111" stroke-width="1.1" stroke-linejoin="miter"/>
<path d="M300.71 526.25L304.81 519.45L296.61 519.45Z" fill="#fff" stroke="#111" stroke-width="1.1" stroke-linejoin="miter"/>
<path d="M312.99 529.58L317.09 522.78L308.89 522.78Z" fill="#fff" stroke="#111" stroke-width="1.1" stroke-linejoin="miter"/>
<path d="M325.28 532.55L329.38 525.75L321.18 525.75Z" fill="#fff" stroke="#111" stroke-width="1.1" stroke-linejoin="miter"/>
<path d="M337.56 535.00L341.66 528.20L333.46 528.20Z" fill="#fff" stroke="#111" stroke-width="1.1" stroke-linejoin="miter"/>
<path d="M349.85 537.42L353.95 530.62L345.75 530.62Z" fill="#fff" stroke="#111" stroke-width="1.1" stroke-linejoin="miter"/>
<path d="M362.13 539.38L366.23 532.58L358.03 532.58Z" fill="#fff" stroke="#111" stroke-width="1.1" stroke-linejoin="miter"/>
<path d="M75.18 417.31L79.58 412.91L83.98 417.31L79.58 421.71Z" fill="#fff" stroke="#111" stroke-width="1.1" stroke-linejoin="miter"/>
<path d="M87.46 428.05L91.86 423.65L96.26 428.05L91.86 432.45Z" fill="#fff" stroke="#111" stroke-width="1.1" stroke-linejoin="miter"/>
<path d="M99.75 437.94L104.15 433.54L108.55 437.94L104.15 442.34Z" fill="#fff" stroke="#111" stroke-width="1.1" stroke-linejoin="miter"/>
<path d="M112.03 444.90L116.43 440.50L120.83 444.90L116.43 449.30Z" fill="#fff" stroke="#111" stroke-width="1.1" stroke-linejoin="miter"/>
<path d="M124.32 450.50L128.72 446.10L133.12 450.50L128.72 454.90Z" fill="#fff" stroke="#111" stroke-width="1.1" stroke-linejoin="miter"/>
<path d="M136.60 455.65L141.00 451.25L145.40 455.65L141.00 460.05Z" fill="#fff" stroke="#111" stroke-width="1.1" stroke-linejoin="miter"/>
<path d="M148.89 461.20L153.29 456.80L157.69 461.20L153.29 465.60Z" fill="#fff" stroke="#111" stroke-width="1.1" stroke-linejoin="miter"/>
<path d="M161.17 467.20L165.57 462.80L169.97 467.20L165.57 471.60Z" fill="#fff" stroke="#111" stroke-width="1.1" stroke-linejoin="miter"/>
<path d="M173.46 474.15L177.86 469.75L182.26 474.15L177.86 478.55Z" fill="#fff" stroke="#111" stroke-width="1.1" stroke-linejoin="miter"/>
<path d="M185.74 481.15L190.14 476.75L194.54 481.15L190.14 485.55Z" fill="#fff" stroke="#111" stroke-width="1.1" stroke-linejoin="miter"/>
<path d="M198.03 487.30L202.43 482.90L206.83 487.30L202.43 491.70Z" fill="#fff" stroke="#111" stroke-width="1.1" stroke-linejoin="miter"/>
<path d="M210.31 493.75L214.71 489.35L219.11 493.75L214.71 498.15Z" fill="#fff" stroke="#111" stroke-width="1.1" stroke-linejoin="miter"/>
<path d="M222.60 499.15L227.00 494.75L231.40 499.15L227.00 503.55Z" fill="#fff" stroke="#111" stroke-width="1.1" stroke-linejoin="miter"/>
<path d="M234.88 504.50L239.28 500.10L243.68 504.50L239.28 508.90Z" fill="#fff" stroke="#111" stroke-width="1.1" stroke-linejoin="miter"/>
<path d="M247.17 509.10L251.57 504.70L255.97 509.10L251.57 513.50Z" fill="#fff" stroke="#111" stroke-width="1.1" stroke-linejoin="miter"/>
<path d="M259.45 513.50L263.85 509.10L268.25 513.50L263.85 517.90Z" fill="#fff" stroke="#111" stroke-width="1.1" stroke-linejoin="miter"/>
<path d="M271.74 517.70L276.14 513.30L280.54 517.70L276.14 522.10Z" fill="#fff" stroke="#111" stroke-width="1.1" stroke-linejoin="miter"/>
<path d="M284.02 521.35L288.42 516.95L292.82 521.35L288.42 525.75Z" fill="#fff" stroke="#111" stroke-width="1.1" stroke-linejoin="miter"/>
<path d="M296.31 524.60L300.71 520.20L305.11 524.60L300.71 529.00Z" fill="#fff" stroke="#111" stroke-width="1.1" stroke-linejoin="miter"/>
<path d="M308.59 527.75L312.99 523.35L317.39 527.75L312.99 532.15Z" fill="#fff" stroke="#111" stroke-width="1.1" stroke-linejoin="miter"/>
<path d="M320.88 530.70L325.28 526.30L329.68 530.70L325.28 535.10Z" fill="#fff" stroke="#111" stroke-width="1.1" stroke-linejoin="miter"/>
<path d="M333.16 533.00L337.56 528.60L341.96 533.00L337.56 537.40Z" fill="#fff" stroke="#111" stroke-width="1.1" stroke-linejoin="miter"/>
<path d="M345.45 535.35L349.85 530.95L354.25 535.35L349.85 539.75Z" fill="#fff" stroke="#111" stroke-width="1.1" stroke-linejoin="miter"/>
<path d="M357.73 537.25L362.13 532.85L366.53 537.25L362.13 541.65Z" fill="#fff" stroke="#111" stroke-width="1.1" stroke-linejoin="miter"/>
<path d="M62.79 416.60L69.59 412.50L69.59 420.70Z" fill="#fff" stroke="#111" stroke-width="1.1" stroke-linejoin="miter"/>
<path d="M75.08 430.60L81.88 426.50L81.88 434.70Z" fill="#fff" stroke="#111" stroke-width="1.1" stroke-linejoin="miter"/>
<path d="M87.36 439.80L94.16 435.70L94.16 443.90Z" fill="#fff" stroke="#111" stroke-width="1.1" stroke-linejoin="miter"/>
<path d="M99.65 445.68L106.45 441.58L106.45 449.78Z" fill="#fff" stroke="#111" stroke-width="1.1" stroke-linejoin="miter"/>
<path d="M111.93 450.36L118.73 446.26L118.73 454.46Z" fill="#fff" stroke="#111" stroke-width="1.1" stroke-linejoin="miter"/>
<path d="M124.22 455.25L131.02 451.15L131.02 459.35Z" fill="#fff" stroke="#111" stroke-width="1.1" stroke-linejoin="miter"/>
<path d="M136.50 460.77L143.30 456.67L143.30 464.88Z" fill="#fff" stroke="#111" stroke-width="1.1" stroke-linejoin="miter"/>
<path d="M148.79 466.20L155.59 462.10L155.59 470.30Z" fill="#fff" stroke="#111" stroke-width="1.1" stroke-linejoin="miter"/>
<path d="M161.07 472.05L167.87 467.95L167.87 476.15Z" fill="#fff" stroke="#111" stroke-width="1.1" stroke-linejoin="miter"/>
<path d="M173.36 478.82L180.16 474.72L180.16 482.93Z" fill="#fff" stroke="#111" stroke-width="1.1" stroke-linejoin="miter"/>
<path d="M185.64 485.73L192.44 481.62L192.44 489.83Z" fill="#fff" stroke="#111" stroke-width="1.1" stroke-linejoin="miter"/>
<path d="M197.93 491.50L204.73 487.40L204.73 495.60Z" fill="#fff" stroke="#111" stroke-width="1.1" stroke-linejoin="miter"/>
<path d="M210.21 497.77L217.01 493.67L217.01 501.88Z" fill="#fff" stroke="#111" stroke-width="1.1" stroke-linejoin="miter"/>
<path d="M222.50 502.77L229.30 498.67L229.30 506.88Z" fill="#fff" stroke="#111" stroke-width="1.1" stroke-linejoin="miter"/>
<path d="M234.78 508.25L241.58 504.15L241.58 512.35Z" fill="#fff" stroke="#111" stroke-width="1.1" stroke-linejoin="miter"/>
<path d="M247.07 512.85L253.87 508.75L253.87 516.95Z" fill="#fff" stroke="#111" stroke-width="1.1" stroke-linejoin="miter"/>
<path d="M259.35 516.95L266.15 512.85L266.15 521.05Z" fill="#fff" stroke="#111" stroke-width="1.1" stroke-linejoin="miter"/>
<path d="M271.64 520.95L278.44 516.85L278.44 525.05Z" fill="#fff" stroke="#111" stroke-width="1.1" stroke-linejoin="miter"/>
<path d="M283.92 524.32L290.72 520.22L290.72 528.42Z" fill="#fff" stroke="#111" stroke-width="1.1" stroke-linejoin="miter"/>
<path d="M296.21 527.45L303.01 523.35L303.01 531.55Z" fill="#fff" stroke="#111" stroke-width="1.1" stroke-linejoin="miter"/>
<path d="M308.49 530.42L315.29 526.32L315.29 534.52Z" fill="#fff" stroke="#111" stroke-width="1.1" stroke-linejoin="miter"/>
<path d="M320.78 533.35L327.58 529.25L327.58 537.45Z" fill="#fff" stroke="#111" stroke-width="1.1" stroke-linejoin="miter"/>
<path d="M333.06 535.50L339.86 531.40L339.86 539.60Z" fill="#fff" stroke="#111" stroke-width="1.1" stroke-linejoin="miter"/>
<path d="M345.35 537.78L352.15 533.68L352.15 541.88Z" fill="#fff" stroke="#111" stroke-width="1.1" stroke-linejoin="miter"/>
<path d="M357.63 539.62L364.43 535.52L364.43 543.73Z" fill="#fff" stroke="#111" stroke-width="1.1" stroke-linejoin="miter"/>
<path d="M71.79 416.60L64.99 412.50L64.99 420.70Z" fill="#fff" stroke="#111" stroke-width="1.1" stroke-linejoin="miter"/>
<path d="M84.08 430.60L77.28 426.50L77.28 434.70Z" fill="#fff" stroke="#111" stroke-width="1.1" stroke-linejoin="miter"/>
<path d="M96.36 439.80L89.56 435.70L89.56 443.90Z" fill="#fff" stroke="#111" stroke-width="1.1" stroke-linejoin="miter"/>
<path d="M108.65 447.40L101.85 443.30L101.85 451.50Z" fill="#fff" stroke="#111" stroke-width="1.1" stroke-linejoin="miter"/>
<path d="M120.93 454.00L114.13 449.90L114.13 458.10Z" fill="#fff" stroke="#111" stroke-width="1.1" stroke-linejoin="miter"/>
<path d="M133.22 460.00L126.42 455.90L126.42 464.10Z" fill="#fff" stroke="#111" stroke-width="1.1" stroke-linejoin="miter"/>
<path d="M145.50 465.90L138.70 461.80L138.70 470.00Z" fill="#fff" stroke="#111" stroke-width="1.1" stroke-linejoin="miter"/>
<path d="M157.79 471.20L150.99 467.10L150.99 475.30Z" fill="#fff" stroke="#111" stroke-width="1.1" stroke-linejoin="miter"/>
<path d="M170.07 476.90L163.27 472.80L163.27 481.00Z" fill="#fff" stroke="#111" stroke-width="1.1" stroke-linejoin="miter"/>
<path d="M182.36 483.50L175.56 479.40L175.56 487.60Z" fill="#fff" stroke="#111" stroke-width="1.1" stroke-linejoin="miter"/>
<path d="M194.64 490.30L187.84 486.20L187.84 494.40Z" fill="#fff" stroke="#111" stroke-width="1.1" stroke-linejoin="miter"/>
<path d="M206.93 495.70L200.13 491.60L200.13 499.80Z" fill="#fff" stroke="#111" stroke-width="1.1" stroke-linejoin="miter"/>
<path d="M219.21 501.80L212.41 497.70L212.41 505.90Z" fill="#fff" stroke="#111" stroke-width="1.1" stroke-linejoin="miter"/>
<path d="M231.50 506.40L224.70 502.30L224.70 510.50Z" fill="#fff" stroke="#111" stroke-width="1.1" stroke-linejoin="miter"/>
<path d="M243.78 512.00L236.98 507.90L236.98 516.10Z" fill="#fff" stroke="#111" stroke-width="1.1" stroke-linejoin="miter"/>
<path d="M256.07 516.60L249.27 512.50L249.27 520.70Z" fill="#fff" stroke="#111" stroke-width="1.1" stroke-linejoin="miter"/>
<path d="M268.35 520.40L261.55 516.30L261.55 524.50Z" fill="#fff" stroke="#111" stroke-width="1.1" stroke-linejoin="miter"/>
<path d="M280.64 524.20L273.84 520.10L273.84 528.30Z" fill="#fff" stroke="#111" stroke-width="1.1" stroke-linejoin="miter"/>
<path d="M292.92 527.30L286.12 523.20L286.12 531.40Z" fill="#fff" stroke="#111" stroke-width="1.1" stroke-linejoin="miter"/>
<path d="M305.21 530.30L298.41 526.20L298.41 534.40Z" fill="#fff" stroke="#111" stroke-width="1.1" stroke-linejoin="miter"/>
<path d="M317.49 533.10L310.69 529.00L310.69 537.20Z" fill="#fff" stroke="#111" stroke-width="1.1" stroke-linejoin="miter"/>
<path d="M329.78 536.00L322.98 531.90L322.98 540.10Z" fill="#fff" stroke="#111" stroke-width="1.1" stroke-linejoin="miter"/>
<path d="M342.06 538.00L335.26 533.90L335.26 542.10Z" fill="#fff" stroke="#111" stroke-width="1.1" stroke-linejoin="miter"/>
<path d="M354.35 540.20L347.55 536.10L347.55 544.30Z" fill="#fff" stroke="#111" stroke-width="1.1" stroke-linejoin="miter"/>
<path d="M366.63 542.00L359.83 537.90L359.83 546.10Z" fill="#fff" stroke="#111" stroke-width="1.1" stroke-linejoin="miter"/>
<rect x="177.88" y="311.20" width="7.2" height="7.2" fill="#000"/>
<rect x="180.15" y="322.62" width="7.2" height="7.2" fill="#000"/>
<rect x="181.93" y="334.08" width="7.2" height="7.2" fill="#000"/>
<rect x="184.33" y="345.99" width="7.2" height="7.2" fill="#000"/>
<rect x="187.15" y="357.50" width="7.2" height="7.2" fill="#000"/>
<rect x="190.29" y="368.38" width="7.2" height="7.2" fill="#000"/>
<rect x="193.97" y="379.41" width="7.2" height="7.2" fill="#000"/>
<rect x="197.66" y="389.79" width="7.2" height="7.2" fill="#000"/>
<rect x="202.51" y="400.72" width="7.2" height="7.2" fill="#000"/>
<rect x="207.85" y="409.59" width="7.2" height="7.2" fill="#000"/>
<rect x="214.18" y="419.78" width="7.2" height="7.2" fill="#000"/>
<rect x="222.66" y="428.70" width="7.2" height="7.2" fill="#000"/>
<rect x="232.42" y="437.08" width="7.2" height="7.2" fill="#000"/>
<rect x="277.9" y="8.1" width="96.70" height="154.80" fill="#fff" stroke="#111" stroke-width="1"/>
<rect x="293.50" y="21.00" width="7" height="5.4" fill="#fff" stroke="#111" stroke-width="1.1"/>
<text x="311.4" y="28.00" font-size="12">150 µm</text>
<circle cx="297.00" cy="39.70" r="3.6" fill="#fff" stroke="#111" stroke-width="1.1" stroke-linejoin="miter"/>
<text x="311.4" y="44.00" font-size="12">105 µm</text>
<path d="M297.00 50.66L301.59 58.28L292.41 58.28Z" fill="#fff" stroke="#111" stroke-width="1.1" stroke-linejoin="miter"/>
<text x="311.4" y="60.00" font-size="12">80 µm</text>
<path d="M297.00 76.74L301.59 69.12L292.41 69.12Z" fill="#fff" stroke="#111" stroke-width="1.1" stroke-linejoin="miter"/>
<text x="311.4" y="76.00" font-size="12">64 µm</text>
<path d="M292.60 87.70L297.00 83.30L301.40 87.70L297.00 92.10Z" fill="#fff" stroke="#111" stroke-width="1.1" stroke-linejoin="miter"/>
<text x="311.4" y="92.00" font-size="12">52 µm</text>
<path d="M291.96 103.70L299.58 99.11L299.58 108.29Z" fill="#fff" stroke="#111" stroke-width="1.1" stroke-linejoin="miter"/>
<text x="311.4" y="108.00" font-size="12">46 µm</text>
<path d="M302.04 119.70L294.42 115.11L294.42 124.29Z" fill="#fff" stroke="#111" stroke-width="1.1" stroke-linejoin="miter"/>
<text x="311.4" y="124.00" font-size="12">40 µm</text>
<rect x="293.00" y="131.60" width="8" height="6.4" fill="#000"/>
<text x="311.4" y="139.10" font-size="12">Concentric</text>
<text x="311.4" y="153.80" font-size="12">Cylinders</text>
<rect x="274.7" y="311.4" width="97.80" height="156.30" fill="#fff" stroke="#111" stroke-width="1"/>
<rect x="291.70" y="324.40" width="7" height="5.4" fill="#fff" stroke="#111" stroke-width="1.1"/>
<text x="308.3" y="331.40" font-size="12">150 µm</text>
<circle cx="295.20" cy="343.30" r="3.6" fill="#fff" stroke="#111" stroke-width="1.1" stroke-linejoin="miter"/>
<text x="308.3" y="347.60" font-size="12">105 µm</text>
<path d="M295.20 354.46L299.79 362.08L290.61 362.08Z" fill="#fff" stroke="#111" stroke-width="1.1" stroke-linejoin="miter"/>
<text x="308.3" y="363.80" font-size="12">80 µm</text>
<path d="M295.20 380.74L299.79 373.12L290.61 373.12Z" fill="#fff" stroke="#111" stroke-width="1.1" stroke-linejoin="miter"/>
<text x="308.3" y="380.00" font-size="12">64 µm</text>
<path d="M290.80 391.90L295.20 387.50L299.60 391.90L295.20 396.30Z" fill="#fff" stroke="#111" stroke-width="1.1" stroke-linejoin="miter"/>
<text x="308.3" y="396.20" font-size="12">52 µm</text>
<path d="M290.16 408.10L297.78 403.51L297.78 412.69Z" fill="#fff" stroke="#111" stroke-width="1.1" stroke-linejoin="miter"/>
<text x="308.3" y="412.40" font-size="12">46 µm</text>
<path d="M300.24 424.30L292.62 419.71L292.62 428.89Z" fill="#fff" stroke="#111" stroke-width="1.1" stroke-linejoin="miter"/>
<text x="308.3" y="428.60" font-size="12">40 µm</text>
<rect x="291.20" y="436.10" width="8" height="6.4" fill="#000"/>
<text x="308.3" y="443.60" font-size="12">Concentric</text>
<text x="308.3" y="458.30" font-size="12">Cylinders</text>
<rect x="462.7" y="11.5" width="172.80" height="90.90" fill="#fff" stroke="#111" stroke-width="1"/>
<rect x="484.00" y="24.10" width="7" height="5.4" fill="#fff" stroke="#111" stroke-width="1.1"/>
<text x="501.7" y="31.00" font-size="12">150 µm</text>
<path d="M487.50 37.82L491.76 44.89L483.24 44.89Z" fill="#fff" stroke="#111" stroke-width="1.1" stroke-linejoin="miter"/>
<text x="501.7" y="46.70" font-size="12">80 µm</text>
<path d="M483.10 58.70L487.50 54.30L491.90 58.70L487.50 63.10Z" fill="#fff" stroke="#111" stroke-width="1.1" stroke-linejoin="miter"/>
<text x="501.7" y="62.90" font-size="12">52 µm</text>
<path d="M492.18 74.60L485.11 70.34L485.11 78.86Z" fill="#fff" stroke="#111" stroke-width="1.1" stroke-linejoin="miter"/>
<text x="501.7" y="78.80" font-size="12">40 µm</text>
<circle cx="553.20" cy="26.80" r="3.6" fill="#fff" stroke="#111" stroke-width="1.1" stroke-linejoin="miter"/>
<text x="567.7" y="31.00" font-size="12">105 µm</text>
<path d="M553.20 47.18L557.46 40.11L548.94 40.11Z" fill="#fff" stroke="#111" stroke-width="1.1" stroke-linejoin="miter"/>
<text x="567.7" y="46.70" font-size="12">64 µm</text>
<path d="M548.52 58.70L555.59 54.44L555.59 62.96Z" fill="#fff" stroke="#111" stroke-width="1.1" stroke-linejoin="miter"/>
<text x="567.7" y="62.90" font-size="12">46 µm</text>
<rect x="549.20" y="71.40" width="8" height="6.4" fill="#000"/>
<text x="567.7" y="78.80" font-size="12">Concentric</text>
<text x="567.7" y="93.40" font-size="12">Cylinders</text>
<text x="155.6" y="281.6" font-size="16.6" stroke-width="0.1">Shear Rate</text>
<text x="243.80" y="281.6" font-size="16.5" font-style="italic" stroke-width="0" font-family="'Liberation Serif', serif">γ</text>
<text x="246.60" y="277.60" font-size="13" stroke-width="0" fill="#000">•</text>
<text x="254.00" y="281.6" font-size="16.6" stroke-width="0.1">/ s<tspan dy="-6.5" dx="0.2" font-size="9.6">-1</tspan></text>
<text x="555.6" y="282.0" font-size="16.6" stroke-width="0.1">Shear Rate</text>
<text x="643.80" y="282.0" font-size="16.5" font-style="italic" stroke-width="0" font-family="'Liberation Serif', serif">γ</text>
<text x="649.20" y="278.00" font-size="11.5" stroke-width="0" fill="#000">•</text>
<text x="654.00" y="282.0" font-size="16.6" stroke-width="0.1">/ s<tspan dy="-6.5" dx="0.2" font-size="9.6">-1</tspan></text>
<text x="141.0" y="586.8" font-size="16.9" stroke-width="0.1" textLength="94.6" lengthAdjust="spacingAndGlyphs">Shear Stress</text>
<text transform="translate(241.8 586.8) scale(1.22 1)" font-size="15.6" font-style="italic" stroke-width="0" font-family="'Liberation Serif', serif">σ</text>
<text x="255.2" y="586.8" font-size="16.9" stroke-width="0.1">/</text>
<text x="264.8" y="586.8" font-size="16.9" stroke-width="0.1" textLength="20.4" lengthAdjust="spacingAndGlyphs">Pa</text>
<g transform="translate(17.4 177.5) rotate(-90)"><text x="-0.60" y="0" font-size="16.3" stroke-width="0" textLength="55.40" lengthAdjust="spacingAndGlyphs">Viscosity</text><text transform="translate(63.20 0) scale(1.15 1)" font-size="11.5" font-style="italic" stroke-width="0" font-family="'Liberation Serif', serif">η</text><text x="75.30" y="-0.8" font-size="13.5" stroke-width="0" fill="#333">/</text><text x="84.20" y="0" font-size="16.3" stroke-width="0" textLength="32.80" lengthAdjust="spacingAndGlyphs">Pa.s</text></g>
<g transform="translate(13.8 482.0) rotate(-90)"><text x="-0.61" y="0" font-size="16.3" stroke-width="0" textLength="56.31" lengthAdjust="spacingAndGlyphs">Viscosity</text><text transform="translate(64.23 0) scale(1.15 1)" font-size="11.5" font-style="italic" stroke-width="0" font-family="'Liberation Serif', serif">η</text><text x="76.53" y="-0.8" font-size="13.5" stroke-width="0" fill="#333">/</text><text x="85.58" y="0" font-size="16.3" stroke-width="0" textLength="33.34" lengthAdjust="spacingAndGlyphs">Pa.s</text></g>
<g transform="translate(425.4 179.2) rotate(-90)"><text x="-0.60" y="0" font-size="16.3" stroke-width="0" textLength="75.80" lengthAdjust="spacingAndGlyphs">Shear Stress</text><text transform="translate(82.40 0) scale(1.15 1)" font-size="14.5" font-style="italic" stroke-width="0" font-family="'Liberation Serif', serif">σ</text><text x="94.60" y="-0.8" font-size="13.5" stroke-width="0" fill="#333">/</text><text x="104.40" y="0" font-size="16.3" stroke-width="0" textLength="15.60" lengthAdjust="spacingAndGlyphs">Pa</text></g>
<text x="2.6" y="17.6" font-size="17.6" font-weight="bold" fill="#000">(a)</text>
<text x="414.3" y="16.9" font-size="17.6" font-weight="bold" fill="#000">(b)</text>
<text x="1.3" y="303.6" font-size="17.6" font-weight="bold" fill="#000">(c)</text>
</svg>
</body></html>
